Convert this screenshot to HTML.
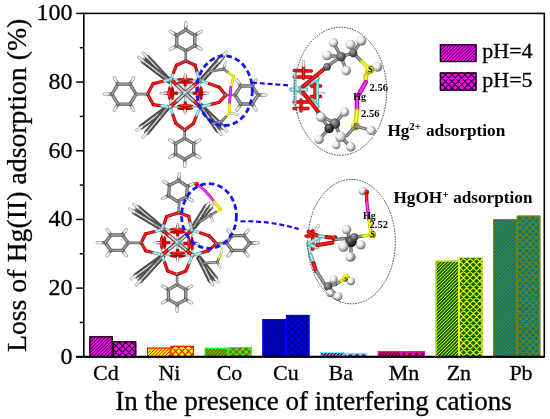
<!DOCTYPE html>
<html><head><meta charset="utf-8"><style>
html,body{margin:0;padding:0;background:#fff;overflow:hidden;width:550px;height:419px;}
svg{display:block;}
text{font-family:"Liberation Serif","Times New Roman",serif;fill:#000;}
.yt,.xt,.tt,.tx,.lg{stroke:#000;stroke-width:0.3px;}
.yt{font-size:24px;}
.xt{font-size:22px;}
.tt{font-size:28px;}
.tx{font-size:27px;}
.lg{font-size:22px;}
.an{font-size:17.2px;font-weight:bold;}
</style></head><body>
<svg width="550" height="419" viewBox="0 0 550 419">
<defs>

</defs>
<defs><radialGradient id="grw" cx="0.4" cy="0.38" r="0.62" fx="0.36" fy="0.32"><stop offset="0" stop-color="#ffffff"/><stop offset="0.45" stop-color="#ececec"/><stop offset="1" stop-color="#6a6a6a"/></radialGradient><radialGradient id="grg" cx="0.4" cy="0.38" r="0.62" fx="0.36" fy="0.32"><stop offset="0" stop-color="#b0b0b0"/><stop offset="0.45" stop-color="#707070"/><stop offset="1" stop-color="#303030"/></radialGradient><radialGradient id="gry" cx="0.4" cy="0.38" r="0.62" fx="0.36" fy="0.32"><stop offset="0" stop-color="#ffff80"/><stop offset="0.45" stop-color="#f0f000"/><stop offset="1" stop-color="#909000"/></radialGradient><radialGradient id="grr" cx="0.4" cy="0.38" r="0.62" fx="0.36" fy="0.32"><stop offset="0" stop-color="#ff7070"/><stop offset="0.45" stop-color="#e00000"/><stop offset="1" stop-color="#900000"/></radialGradient><radialGradient id="grm" cx="0.4" cy="0.38" r="0.62" fx="0.36" fy="0.32"><stop offset="0" stop-color="#ff80ff"/><stop offset="0.45" stop-color="#e000e0"/><stop offset="1" stop-color="#900090"/></radialGradient><radialGradient id="grc" cx="0.4" cy="0.38" r="0.62" fx="0.36" fy="0.32"><stop offset="0" stop-color="#e0ffff"/><stop offset="0.45" stop-color="#90d0d0"/><stop offset="1" stop-color="#508888"/></radialGradient><radialGradient id="grk" cx="0.4" cy="0.38" r="0.62" fx="0.36" fy="0.32"><stop offset="0" stop-color="#909090"/><stop offset="0.45" stop-color="#404040"/><stop offset="1" stop-color="#101010"/></radialGradient></defs><path d="M169.2,80.8 L147.4,57.5" stroke="#474747" stroke-width="5.4" stroke-linecap="round"/><line x1="169.2" y1="80.8" x2="147.4" y2="57.5" stroke="#5e5e5e" stroke-width="3.0" stroke-linecap="round"/><line x1="169.2" y1="80.8" x2="147.4" y2="57.5" stroke="#a4a4a4" stroke-width="1.35" stroke-linecap="round"/><line x1="161.4" y1="72.5" x2="147.4" y2="57.5" stroke="#f0f0f0" stroke-width="0.9"/><line x1="147.4" y1="57.5" x2="143.2" y2="53.1" stroke="#a8a8a8" stroke-width="3.0" stroke-linecap="round"/><line x1="147.4" y1="57.5" x2="143.2" y2="53.1" stroke="#ffffff" stroke-width="1.35" stroke-linecap="round"/><path d="M169.2,80.8 L143.3,61.0" stroke="#474747" stroke-width="5.4" stroke-linecap="round"/><line x1="169.2" y1="80.8" x2="143.3" y2="61.0" stroke="#5e5e5e" stroke-width="3.0" stroke-linecap="round"/><line x1="169.2" y1="80.8" x2="143.3" y2="61.0" stroke="#a4a4a4" stroke-width="1.35" stroke-linecap="round"/><line x1="159.9" y1="73.7" x2="143.3" y2="61.0" stroke="#f0f0f0" stroke-width="0.9"/><line x1="143.3" y1="61.0" x2="138.4" y2="57.2" stroke="#a8a8a8" stroke-width="3.0" stroke-linecap="round"/><line x1="143.3" y1="61.0" x2="138.4" y2="57.2" stroke="#ffffff" stroke-width="1.35" stroke-linecap="round"/><path d="M167.5,107.5 L141.7,126.7" stroke="#474747" stroke-width="5.4" stroke-linecap="round"/><line x1="167.5" y1="107.5" x2="141.7" y2="126.7" stroke="#5e5e5e" stroke-width="3.0" stroke-linecap="round"/><line x1="167.5" y1="107.5" x2="141.7" y2="126.7" stroke="#a4a4a4" stroke-width="1.35" stroke-linecap="round"/><line x1="158.3" y1="114.3" x2="141.7" y2="126.7" stroke="#f0f0f0" stroke-width="0.9"/><line x1="141.7" y1="126.7" x2="136.8" y2="130.3" stroke="#a8a8a8" stroke-width="3.0" stroke-linecap="round"/><line x1="141.7" y1="126.7" x2="136.8" y2="130.3" stroke="#ffffff" stroke-width="1.35" stroke-linecap="round"/><path d="M167.5,107.5 L146.9,132.5" stroke="#474747" stroke-width="5.4" stroke-linecap="round"/><line x1="167.5" y1="107.5" x2="146.9" y2="132.5" stroke="#5e5e5e" stroke-width="3.0" stroke-linecap="round"/><line x1="167.5" y1="107.5" x2="146.9" y2="132.5" stroke="#a4a4a4" stroke-width="1.35" stroke-linecap="round"/><line x1="160.1" y1="116.4" x2="146.9" y2="132.5" stroke="#f0f0f0" stroke-width="0.9"/><line x1="146.9" y1="132.5" x2="142.9" y2="137.3" stroke="#a8a8a8" stroke-width="3.0" stroke-linecap="round"/><line x1="146.9" y1="132.5" x2="142.9" y2="137.3" stroke="#ffffff" stroke-width="1.35" stroke-linecap="round"/><path d="M201.5,80.5 L222.3,56.6" stroke="#474747" stroke-width="5.4" stroke-linecap="round"/><line x1="201.5" y1="80.5" x2="222.3" y2="56.6" stroke="#5e5e5e" stroke-width="3.0" stroke-linecap="round"/><line x1="201.5" y1="80.5" x2="222.3" y2="56.6" stroke="#a4a4a4" stroke-width="1.35" stroke-linecap="round"/><line x1="208.9" y1="72.0" x2="222.3" y2="56.6" stroke="#f0f0f0" stroke-width="0.9"/><line x1="222.3" y1="56.6" x2="226.3" y2="52.0" stroke="#a8a8a8" stroke-width="3.0" stroke-linecap="round"/><line x1="222.3" y1="56.6" x2="226.3" y2="52.0" stroke="#ffffff" stroke-width="1.35" stroke-linecap="round"/><path d="M201.5,80.5 L218.8,61.3" stroke="#474747" stroke-width="5.4" stroke-linecap="round"/><line x1="201.5" y1="80.5" x2="218.8" y2="61.3" stroke="#5e5e5e" stroke-width="3.0" stroke-linecap="round"/><line x1="201.5" y1="80.5" x2="218.8" y2="61.3" stroke="#a4a4a4" stroke-width="1.35" stroke-linecap="round"/><line x1="207.7" y1="73.6" x2="218.8" y2="61.3" stroke="#f0f0f0" stroke-width="0.9"/><line x1="218.8" y1="61.3" x2="222.1" y2="57.6" stroke="#a8a8a8" stroke-width="3.0" stroke-linecap="round"/><line x1="218.8" y1="61.3" x2="222.1" y2="57.6" stroke="#ffffff" stroke-width="1.35" stroke-linecap="round"/><path d="M200.5,105.5 L222.7,127.1" stroke="#474747" stroke-width="5.4" stroke-linecap="round"/><line x1="200.5" y1="105.5" x2="222.7" y2="127.1" stroke="#5e5e5e" stroke-width="3.0" stroke-linecap="round"/><line x1="200.5" y1="105.5" x2="222.7" y2="127.1" stroke="#a4a4a4" stroke-width="1.35" stroke-linecap="round"/><line x1="208.4" y1="113.2" x2="222.7" y2="127.1" stroke="#f0f0f0" stroke-width="0.9"/><line x1="222.7" y1="127.1" x2="226.9" y2="131.3" stroke="#a8a8a8" stroke-width="3.0" stroke-linecap="round"/><line x1="222.7" y1="127.1" x2="226.9" y2="131.3" stroke="#ffffff" stroke-width="1.35" stroke-linecap="round"/><path d="M200.5,105.5 L217.8,130.1" stroke="#474747" stroke-width="5.4" stroke-linecap="round"/><line x1="200.5" y1="105.5" x2="217.8" y2="130.1" stroke="#5e5e5e" stroke-width="3.0" stroke-linecap="round"/><line x1="200.5" y1="105.5" x2="217.8" y2="130.1" stroke="#a4a4a4" stroke-width="1.35" stroke-linecap="round"/><line x1="206.7" y1="114.3" x2="217.8" y2="130.1" stroke="#f0f0f0" stroke-width="0.9"/><line x1="217.8" y1="130.1" x2="221.1" y2="134.7" stroke="#a8a8a8" stroke-width="3.0" stroke-linecap="round"/><line x1="217.8" y1="130.1" x2="221.1" y2="134.7" stroke="#ffffff" stroke-width="1.35" stroke-linecap="round"/><line x1="185.8" y1="30.0" x2="185.8" y2="26.2" stroke="#5e5e5e" stroke-width="3.3" stroke-linecap="round"/><line x1="185.8" y1="30.0" x2="185.8" y2="26.2" stroke="#a4a4a4" stroke-width="1.48" stroke-linecap="round"/><line x1="185.8" y1="26.2" x2="185.8" y2="22.4" stroke="#a8a8a8" stroke-width="3.3" stroke-linecap="round"/><line x1="185.8" y1="26.2" x2="185.8" y2="22.4" stroke="#ffffff" stroke-width="1.48" stroke-linecap="round"/><line x1="194.8" y1="35.2" x2="198.1" y2="33.3" stroke="#5e5e5e" stroke-width="3.3" stroke-linecap="round"/><line x1="194.8" y1="35.2" x2="198.1" y2="33.3" stroke="#a4a4a4" stroke-width="1.48" stroke-linecap="round"/><line x1="198.1" y1="33.3" x2="201.4" y2="31.4" stroke="#a8a8a8" stroke-width="3.3" stroke-linecap="round"/><line x1="198.1" y1="33.3" x2="201.4" y2="31.4" stroke="#ffffff" stroke-width="1.48" stroke-linecap="round"/><line x1="194.8" y1="45.6" x2="198.1" y2="47.5" stroke="#5e5e5e" stroke-width="3.3" stroke-linecap="round"/><line x1="194.8" y1="45.6" x2="198.1" y2="47.5" stroke="#a4a4a4" stroke-width="1.48" stroke-linecap="round"/><line x1="198.1" y1="47.5" x2="201.4" y2="49.4" stroke="#a8a8a8" stroke-width="3.3" stroke-linecap="round"/><line x1="198.1" y1="47.5" x2="201.4" y2="49.4" stroke="#ffffff" stroke-width="1.48" stroke-linecap="round"/><line x1="176.8" y1="45.6" x2="173.5" y2="47.5" stroke="#5e5e5e" stroke-width="3.3" stroke-linecap="round"/><line x1="176.8" y1="45.6" x2="173.5" y2="47.5" stroke="#a4a4a4" stroke-width="1.48" stroke-linecap="round"/><line x1="173.5" y1="47.5" x2="170.2" y2="49.4" stroke="#a8a8a8" stroke-width="3.3" stroke-linecap="round"/><line x1="173.5" y1="47.5" x2="170.2" y2="49.4" stroke="#ffffff" stroke-width="1.48" stroke-linecap="round"/><line x1="176.8" y1="35.2" x2="173.5" y2="33.3" stroke="#5e5e5e" stroke-width="3.3" stroke-linecap="round"/><line x1="176.8" y1="35.2" x2="173.5" y2="33.3" stroke="#a4a4a4" stroke-width="1.48" stroke-linecap="round"/><line x1="173.5" y1="33.3" x2="170.2" y2="31.4" stroke="#a8a8a8" stroke-width="3.3" stroke-linecap="round"/><line x1="173.5" y1="33.3" x2="170.2" y2="31.4" stroke="#ffffff" stroke-width="1.48" stroke-linecap="round"/><line x1="185.8" y1="30.0" x2="194.8" y2="35.2" stroke="#5e5e5e" stroke-width="3.3" stroke-linecap="round"/><line x1="185.8" y1="30.0" x2="194.8" y2="35.2" stroke="#a4a4a4" stroke-width="1.48" stroke-linecap="round"/><line x1="194.8" y1="35.2" x2="194.8" y2="45.6" stroke="#5e5e5e" stroke-width="3.3" stroke-linecap="round"/><line x1="194.8" y1="35.2" x2="194.8" y2="45.6" stroke="#a4a4a4" stroke-width="1.48" stroke-linecap="round"/><line x1="194.8" y1="45.6" x2="185.8" y2="50.8" stroke="#5e5e5e" stroke-width="3.3" stroke-linecap="round"/><line x1="194.8" y1="45.6" x2="185.8" y2="50.8" stroke="#a4a4a4" stroke-width="1.48" stroke-linecap="round"/><line x1="185.8" y1="50.8" x2="176.8" y2="45.6" stroke="#5e5e5e" stroke-width="3.3" stroke-linecap="round"/><line x1="185.8" y1="50.8" x2="176.8" y2="45.6" stroke="#a4a4a4" stroke-width="1.48" stroke-linecap="round"/><line x1="176.8" y1="45.6" x2="176.8" y2="35.2" stroke="#5e5e5e" stroke-width="3.3" stroke-linecap="round"/><line x1="176.8" y1="45.6" x2="176.8" y2="35.2" stroke="#a4a4a4" stroke-width="1.48" stroke-linecap="round"/><line x1="176.8" y1="35.2" x2="185.8" y2="30.0" stroke="#5e5e5e" stroke-width="3.3" stroke-linecap="round"/><line x1="176.8" y1="35.2" x2="185.8" y2="30.0" stroke="#a4a4a4" stroke-width="1.48" stroke-linecap="round"/><line x1="185.8" y1="50.8" x2="185.8" y2="61.0" stroke="#5e5e5e" stroke-width="2.6" stroke-linecap="round"/><line x1="185.8" y1="50.8" x2="185.8" y2="61.0" stroke="#a4a4a4" stroke-width="1.17" stroke-linecap="round"/><line x1="130.0" y1="84.1" x2="131.9" y2="81.0" stroke="#5e5e5e" stroke-width="3.3" stroke-linecap="round"/><line x1="130.0" y1="84.1" x2="131.9" y2="81.0" stroke="#a4a4a4" stroke-width="1.48" stroke-linecap="round"/><line x1="131.9" y1="81.0" x2="133.8" y2="77.8" stroke="#a8a8a8" stroke-width="3.3" stroke-linecap="round"/><line x1="131.9" y1="81.0" x2="133.8" y2="77.8" stroke="#ffffff" stroke-width="1.48" stroke-linecap="round"/><line x1="130.0" y1="104.1" x2="131.9" y2="107.2" stroke="#5e5e5e" stroke-width="3.3" stroke-linecap="round"/><line x1="130.0" y1="104.1" x2="131.9" y2="107.2" stroke="#a4a4a4" stroke-width="1.48" stroke-linecap="round"/><line x1="131.9" y1="107.2" x2="133.8" y2="110.4" stroke="#a8a8a8" stroke-width="3.3" stroke-linecap="round"/><line x1="131.9" y1="107.2" x2="133.8" y2="110.4" stroke="#ffffff" stroke-width="1.48" stroke-linecap="round"/><line x1="118.0" y1="104.1" x2="116.1" y2="107.2" stroke="#5e5e5e" stroke-width="3.3" stroke-linecap="round"/><line x1="118.0" y1="104.1" x2="116.1" y2="107.2" stroke="#a4a4a4" stroke-width="1.48" stroke-linecap="round"/><line x1="116.1" y1="107.2" x2="114.2" y2="110.4" stroke="#a8a8a8" stroke-width="3.3" stroke-linecap="round"/><line x1="116.1" y1="107.2" x2="114.2" y2="110.4" stroke="#ffffff" stroke-width="1.48" stroke-linecap="round"/><line x1="112.0" y1="94.1" x2="108.2" y2="94.1" stroke="#5e5e5e" stroke-width="3.3" stroke-linecap="round"/><line x1="112.0" y1="94.1" x2="108.2" y2="94.1" stroke="#a4a4a4" stroke-width="1.48" stroke-linecap="round"/><line x1="108.2" y1="94.1" x2="104.4" y2="94.1" stroke="#a8a8a8" stroke-width="3.3" stroke-linecap="round"/><line x1="108.2" y1="94.1" x2="104.4" y2="94.1" stroke="#ffffff" stroke-width="1.48" stroke-linecap="round"/><line x1="118.0" y1="84.1" x2="116.1" y2="81.0" stroke="#5e5e5e" stroke-width="3.3" stroke-linecap="round"/><line x1="118.0" y1="84.1" x2="116.1" y2="81.0" stroke="#a4a4a4" stroke-width="1.48" stroke-linecap="round"/><line x1="116.1" y1="81.0" x2="114.2" y2="77.8" stroke="#a8a8a8" stroke-width="3.3" stroke-linecap="round"/><line x1="116.1" y1="81.0" x2="114.2" y2="77.8" stroke="#ffffff" stroke-width="1.48" stroke-linecap="round"/><line x1="130.0" y1="84.1" x2="136.0" y2="94.1" stroke="#5e5e5e" stroke-width="3.3" stroke-linecap="round"/><line x1="130.0" y1="84.1" x2="136.0" y2="94.1" stroke="#a4a4a4" stroke-width="1.48" stroke-linecap="round"/><line x1="136.0" y1="94.1" x2="130.0" y2="104.1" stroke="#5e5e5e" stroke-width="3.3" stroke-linecap="round"/><line x1="136.0" y1="94.1" x2="130.0" y2="104.1" stroke="#a4a4a4" stroke-width="1.48" stroke-linecap="round"/><line x1="130.0" y1="104.1" x2="118.0" y2="104.1" stroke="#5e5e5e" stroke-width="3.3" stroke-linecap="round"/><line x1="130.0" y1="104.1" x2="118.0" y2="104.1" stroke="#a4a4a4" stroke-width="1.48" stroke-linecap="round"/><line x1="118.0" y1="104.1" x2="112.0" y2="94.1" stroke="#5e5e5e" stroke-width="3.3" stroke-linecap="round"/><line x1="118.0" y1="104.1" x2="112.0" y2="94.1" stroke="#a4a4a4" stroke-width="1.48" stroke-linecap="round"/><line x1="112.0" y1="94.1" x2="118.0" y2="84.1" stroke="#5e5e5e" stroke-width="3.3" stroke-linecap="round"/><line x1="112.0" y1="94.1" x2="118.0" y2="84.1" stroke="#a4a4a4" stroke-width="1.48" stroke-linecap="round"/><line x1="118.0" y1="84.1" x2="130.0" y2="84.1" stroke="#5e5e5e" stroke-width="3.3" stroke-linecap="round"/><line x1="118.0" y1="84.1" x2="130.0" y2="84.1" stroke="#a4a4a4" stroke-width="1.48" stroke-linecap="round"/><line x1="136.0" y1="94.1" x2="147.5" y2="94.1" stroke="#5e5e5e" stroke-width="2.6" stroke-linecap="round"/><line x1="136.0" y1="94.1" x2="147.5" y2="94.1" stroke="#a4a4a4" stroke-width="1.17" stroke-linecap="round"/><line x1="193.7" y1="143.6" x2="196.8" y2="141.8" stroke="#5e5e5e" stroke-width="3.3" stroke-linecap="round"/><line x1="193.7" y1="143.6" x2="196.8" y2="141.8" stroke="#a4a4a4" stroke-width="1.48" stroke-linecap="round"/><line x1="196.8" y1="141.8" x2="199.9" y2="140.0" stroke="#a8a8a8" stroke-width="3.3" stroke-linecap="round"/><line x1="196.8" y1="141.8" x2="199.9" y2="140.0" stroke="#ffffff" stroke-width="1.48" stroke-linecap="round"/><line x1="193.7" y1="154.0" x2="196.8" y2="155.8" stroke="#5e5e5e" stroke-width="3.3" stroke-linecap="round"/><line x1="193.7" y1="154.0" x2="196.8" y2="155.8" stroke="#a4a4a4" stroke-width="1.48" stroke-linecap="round"/><line x1="196.8" y1="155.8" x2="199.9" y2="157.6" stroke="#a8a8a8" stroke-width="3.3" stroke-linecap="round"/><line x1="196.8" y1="155.8" x2="199.9" y2="157.6" stroke="#ffffff" stroke-width="1.48" stroke-linecap="round"/><line x1="184.7" y1="159.2" x2="184.7" y2="162.8" stroke="#5e5e5e" stroke-width="3.3" stroke-linecap="round"/><line x1="184.7" y1="159.2" x2="184.7" y2="162.8" stroke="#a4a4a4" stroke-width="1.48" stroke-linecap="round"/><line x1="184.7" y1="162.8" x2="184.7" y2="166.4" stroke="#a8a8a8" stroke-width="3.3" stroke-linecap="round"/><line x1="184.7" y1="162.8" x2="184.7" y2="166.4" stroke="#ffffff" stroke-width="1.48" stroke-linecap="round"/><line x1="175.7" y1="154.0" x2="172.6" y2="155.8" stroke="#5e5e5e" stroke-width="3.3" stroke-linecap="round"/><line x1="175.7" y1="154.0" x2="172.6" y2="155.8" stroke="#a4a4a4" stroke-width="1.48" stroke-linecap="round"/><line x1="172.6" y1="155.8" x2="169.5" y2="157.6" stroke="#a8a8a8" stroke-width="3.3" stroke-linecap="round"/><line x1="172.6" y1="155.8" x2="169.5" y2="157.6" stroke="#ffffff" stroke-width="1.48" stroke-linecap="round"/><line x1="175.7" y1="143.6" x2="172.6" y2="141.8" stroke="#5e5e5e" stroke-width="3.3" stroke-linecap="round"/><line x1="175.7" y1="143.6" x2="172.6" y2="141.8" stroke="#a4a4a4" stroke-width="1.48" stroke-linecap="round"/><line x1="172.6" y1="141.8" x2="169.5" y2="140.0" stroke="#a8a8a8" stroke-width="3.3" stroke-linecap="round"/><line x1="172.6" y1="141.8" x2="169.5" y2="140.0" stroke="#ffffff" stroke-width="1.48" stroke-linecap="round"/><line x1="184.7" y1="138.4" x2="193.7" y2="143.6" stroke="#5e5e5e" stroke-width="3.3" stroke-linecap="round"/><line x1="184.7" y1="138.4" x2="193.7" y2="143.6" stroke="#a4a4a4" stroke-width="1.48" stroke-linecap="round"/><line x1="193.7" y1="143.6" x2="193.7" y2="154.0" stroke="#5e5e5e" stroke-width="3.3" stroke-linecap="round"/><line x1="193.7" y1="143.6" x2="193.7" y2="154.0" stroke="#a4a4a4" stroke-width="1.48" stroke-linecap="round"/><line x1="193.7" y1="154.0" x2="184.7" y2="159.2" stroke="#5e5e5e" stroke-width="3.3" stroke-linecap="round"/><line x1="193.7" y1="154.0" x2="184.7" y2="159.2" stroke="#a4a4a4" stroke-width="1.48" stroke-linecap="round"/><line x1="184.7" y1="159.2" x2="175.7" y2="154.0" stroke="#5e5e5e" stroke-width="3.3" stroke-linecap="round"/><line x1="184.7" y1="159.2" x2="175.7" y2="154.0" stroke="#a4a4a4" stroke-width="1.48" stroke-linecap="round"/><line x1="175.7" y1="154.0" x2="175.7" y2="143.6" stroke="#5e5e5e" stroke-width="3.3" stroke-linecap="round"/><line x1="175.7" y1="154.0" x2="175.7" y2="143.6" stroke="#a4a4a4" stroke-width="1.48" stroke-linecap="round"/><line x1="175.7" y1="143.6" x2="184.7" y2="138.4" stroke="#5e5e5e" stroke-width="3.3" stroke-linecap="round"/><line x1="175.7" y1="143.6" x2="184.7" y2="138.4" stroke="#a4a4a4" stroke-width="1.48" stroke-linecap="round"/><line x1="184.7" y1="138.4" x2="184.7" y2="130.0" stroke="#5e5e5e" stroke-width="2.6" stroke-linecap="round"/><line x1="184.7" y1="138.4" x2="184.7" y2="130.0" stroke="#a4a4a4" stroke-width="1.17" stroke-linecap="round"/><line x1="252.2" y1="86.0" x2="254.2" y2="82.9" stroke="#5e5e5e" stroke-width="3.3" stroke-linecap="round"/><line x1="252.2" y1="86.0" x2="254.2" y2="82.9" stroke="#a4a4a4" stroke-width="1.48" stroke-linecap="round"/><line x1="254.2" y1="82.9" x2="256.2" y2="79.8" stroke="#a8a8a8" stroke-width="3.3" stroke-linecap="round"/><line x1="254.2" y1="82.9" x2="256.2" y2="79.8" stroke="#ffffff" stroke-width="1.48" stroke-linecap="round"/><line x1="258.0" y1="95.0" x2="262.0" y2="95.0" stroke="#5e5e5e" stroke-width="3.3" stroke-linecap="round"/><line x1="258.0" y1="95.0" x2="262.0" y2="95.0" stroke="#a4a4a4" stroke-width="1.48" stroke-linecap="round"/><line x1="262.0" y1="95.0" x2="266.0" y2="95.0" stroke="#a8a8a8" stroke-width="3.3" stroke-linecap="round"/><line x1="262.0" y1="95.0" x2="266.0" y2="95.0" stroke="#ffffff" stroke-width="1.48" stroke-linecap="round"/><line x1="252.2" y1="104.0" x2="254.2" y2="107.1" stroke="#5e5e5e" stroke-width="3.3" stroke-linecap="round"/><line x1="252.2" y1="104.0" x2="254.2" y2="107.1" stroke="#a4a4a4" stroke-width="1.48" stroke-linecap="round"/><line x1="254.2" y1="107.1" x2="256.2" y2="110.2" stroke="#a8a8a8" stroke-width="3.3" stroke-linecap="round"/><line x1="254.2" y1="107.1" x2="256.2" y2="110.2" stroke="#ffffff" stroke-width="1.48" stroke-linecap="round"/><line x1="240.8" y1="104.0" x2="238.8" y2="107.1" stroke="#5e5e5e" stroke-width="3.3" stroke-linecap="round"/><line x1="240.8" y1="104.0" x2="238.8" y2="107.1" stroke="#a4a4a4" stroke-width="1.48" stroke-linecap="round"/><line x1="238.8" y1="107.1" x2="236.8" y2="110.2" stroke="#a8a8a8" stroke-width="3.3" stroke-linecap="round"/><line x1="238.8" y1="107.1" x2="236.8" y2="110.2" stroke="#ffffff" stroke-width="1.48" stroke-linecap="round"/><line x1="240.8" y1="86.0" x2="238.8" y2="82.9" stroke="#5e5e5e" stroke-width="3.3" stroke-linecap="round"/><line x1="240.8" y1="86.0" x2="238.8" y2="82.9" stroke="#a4a4a4" stroke-width="1.48" stroke-linecap="round"/><line x1="238.8" y1="82.9" x2="236.8" y2="79.8" stroke="#a8a8a8" stroke-width="3.3" stroke-linecap="round"/><line x1="238.8" y1="82.9" x2="236.8" y2="79.8" stroke="#ffffff" stroke-width="1.48" stroke-linecap="round"/><line x1="252.2" y1="86.0" x2="258.0" y2="95.0" stroke="#5e5e5e" stroke-width="3.3" stroke-linecap="round"/><line x1="252.2" y1="86.0" x2="258.0" y2="95.0" stroke="#a4a4a4" stroke-width="1.48" stroke-linecap="round"/><line x1="258.0" y1="95.0" x2="252.2" y2="104.0" stroke="#5e5e5e" stroke-width="3.3" stroke-linecap="round"/><line x1="258.0" y1="95.0" x2="252.2" y2="104.0" stroke="#a4a4a4" stroke-width="1.48" stroke-linecap="round"/><line x1="252.2" y1="104.0" x2="240.8" y2="104.0" stroke="#5e5e5e" stroke-width="3.3" stroke-linecap="round"/><line x1="252.2" y1="104.0" x2="240.8" y2="104.0" stroke="#a4a4a4" stroke-width="1.48" stroke-linecap="round"/><line x1="240.8" y1="104.0" x2="235.0" y2="95.0" stroke="#5e5e5e" stroke-width="3.3" stroke-linecap="round"/><line x1="240.8" y1="104.0" x2="235.0" y2="95.0" stroke="#a4a4a4" stroke-width="1.48" stroke-linecap="round"/><line x1="235.0" y1="95.0" x2="240.8" y2="86.0" stroke="#5e5e5e" stroke-width="3.3" stroke-linecap="round"/><line x1="235.0" y1="95.0" x2="240.8" y2="86.0" stroke="#a4a4a4" stroke-width="1.48" stroke-linecap="round"/><line x1="240.8" y1="86.0" x2="252.2" y2="86.0" stroke="#5e5e5e" stroke-width="3.3" stroke-linecap="round"/><line x1="240.8" y1="86.0" x2="252.2" y2="86.0" stroke="#a4a4a4" stroke-width="1.48" stroke-linecap="round"/><line x1="235.0" y1="95.0" x2="225.7" y2="95.0" stroke="#5e5e5e" stroke-width="2.6" stroke-linecap="round"/><line x1="235.0" y1="95.0" x2="225.7" y2="95.0" stroke="#a4a4a4" stroke-width="1.17" stroke-linecap="round"/><line x1="170.8" y1="79.4" x2="173.6" y2="72.3" stroke="#5fb0b4" stroke-width="3.2" stroke-linecap="round"/><line x1="170.8" y1="79.4" x2="173.6" y2="72.3" stroke="#b8f0f0" stroke-width="1.44" stroke-linecap="round"/><line x1="173.6" y1="72.3" x2="176.5" y2="65.2" stroke="#b80000" stroke-width="3.2" stroke-linecap="round"/><line x1="173.6" y1="72.3" x2="176.5" y2="65.2" stroke="#ff2424" stroke-width="1.44" stroke-linecap="round"/><line x1="176.5" y1="65.2" x2="185.8" y2="61.0" stroke="#b80000" stroke-width="3.2" stroke-linecap="round"/><line x1="176.5" y1="65.2" x2="185.8" y2="61.0" stroke="#ff2424" stroke-width="1.44" stroke-linecap="round"/><line x1="185.8" y1="61.0" x2="195.1" y2="65.2" stroke="#b80000" stroke-width="3.2" stroke-linecap="round"/><line x1="185.8" y1="61.0" x2="195.1" y2="65.2" stroke="#ff2424" stroke-width="1.44" stroke-linecap="round"/><line x1="195.1" y1="65.2" x2="197.3" y2="72.7" stroke="#b80000" stroke-width="3.2" stroke-linecap="round"/><line x1="195.1" y1="65.2" x2="197.3" y2="72.7" stroke="#ff2424" stroke-width="1.44" stroke-linecap="round"/><line x1="197.3" y1="72.7" x2="199.6" y2="80.1" stroke="#5fb0b4" stroke-width="3.2" stroke-linecap="round"/><line x1="197.3" y1="72.7" x2="199.6" y2="80.1" stroke="#b8f0f0" stroke-width="1.44" stroke-linecap="round"/><circle cx="185.8" cy="61.0" r="1.7" fill="url(#grg)"/><line x1="170.8" y1="79.4" x2="162.0" y2="81.5" stroke="#5fb0b4" stroke-width="3.2" stroke-linecap="round"/><line x1="170.8" y1="79.4" x2="162.0" y2="81.5" stroke="#b8f0f0" stroke-width="1.44" stroke-linecap="round"/><line x1="162.0" y1="81.5" x2="153.2" y2="83.6" stroke="#b80000" stroke-width="3.2" stroke-linecap="round"/><line x1="162.0" y1="81.5" x2="153.2" y2="83.6" stroke="#ff2424" stroke-width="1.44" stroke-linecap="round"/><line x1="153.2" y1="83.6" x2="147.5" y2="94.1" stroke="#b80000" stroke-width="3.2" stroke-linecap="round"/><line x1="153.2" y1="83.6" x2="147.5" y2="94.1" stroke="#ff2424" stroke-width="1.44" stroke-linecap="round"/><line x1="147.5" y1="94.1" x2="153.2" y2="104.6" stroke="#b80000" stroke-width="3.2" stroke-linecap="round"/><line x1="147.5" y1="94.1" x2="153.2" y2="104.6" stroke="#ff2424" stroke-width="1.44" stroke-linecap="round"/><line x1="153.2" y1="104.6" x2="161.6" y2="105.8" stroke="#b80000" stroke-width="3.2" stroke-linecap="round"/><line x1="153.2" y1="104.6" x2="161.6" y2="105.8" stroke="#ff2424" stroke-width="1.44" stroke-linecap="round"/><line x1="161.6" y1="105.8" x2="170.1" y2="107.0" stroke="#5fb0b4" stroke-width="3.2" stroke-linecap="round"/><line x1="161.6" y1="105.8" x2="170.1" y2="107.0" stroke="#b8f0f0" stroke-width="1.44" stroke-linecap="round"/><circle cx="147.5" cy="94.1" r="1.7" fill="url(#grg)"/><line x1="199.6" y1="80.1" x2="209.4" y2="83.7" stroke="#5fb0b4" stroke-width="3.2" stroke-linecap="round"/><line x1="199.6" y1="80.1" x2="209.4" y2="83.7" stroke="#b8f0f0" stroke-width="1.44" stroke-linecap="round"/><line x1="209.4" y1="83.7" x2="219.3" y2="87.2" stroke="#b80000" stroke-width="3.2" stroke-linecap="round"/><line x1="209.4" y1="83.7" x2="219.3" y2="87.2" stroke="#ff2424" stroke-width="1.44" stroke-linecap="round"/><line x1="219.3" y1="87.2" x2="225.7" y2="95.1" stroke="#b80000" stroke-width="3.2" stroke-linecap="round"/><line x1="219.3" y1="87.2" x2="225.7" y2="95.1" stroke="#ff2424" stroke-width="1.44" stroke-linecap="round"/><line x1="225.7" y1="95.1" x2="219.3" y2="102.2" stroke="#b80000" stroke-width="3.2" stroke-linecap="round"/><line x1="225.7" y1="95.1" x2="219.3" y2="102.2" stroke="#ff2424" stroke-width="1.44" stroke-linecap="round"/><line x1="219.3" y1="102.2" x2="209.8" y2="104.6" stroke="#b80000" stroke-width="3.2" stroke-linecap="round"/><line x1="219.3" y1="102.2" x2="209.8" y2="104.6" stroke="#ff2424" stroke-width="1.44" stroke-linecap="round"/><line x1="209.8" y1="104.6" x2="200.3" y2="107.0" stroke="#5fb0b4" stroke-width="3.2" stroke-linecap="round"/><line x1="209.8" y1="104.6" x2="200.3" y2="107.0" stroke="#b8f0f0" stroke-width="1.44" stroke-linecap="round"/><circle cx="225.7" cy="95.1" r="1.7" fill="url(#grg)"/><line x1="170.1" y1="107.0" x2="173.0" y2="115.2" stroke="#5fb0b4" stroke-width="3.2" stroke-linecap="round"/><line x1="170.1" y1="107.0" x2="173.0" y2="115.2" stroke="#b8f0f0" stroke-width="1.44" stroke-linecap="round"/><line x1="173.0" y1="115.2" x2="175.9" y2="123.4" stroke="#b80000" stroke-width="3.2" stroke-linecap="round"/><line x1="173.0" y1="115.2" x2="175.9" y2="123.4" stroke="#ff2424" stroke-width="1.44" stroke-linecap="round"/><line x1="175.9" y1="123.4" x2="184.7" y2="130.0" stroke="#b80000" stroke-width="3.2" stroke-linecap="round"/><line x1="175.9" y1="123.4" x2="184.7" y2="130.0" stroke="#ff2424" stroke-width="1.44" stroke-linecap="round"/><line x1="184.7" y1="130.0" x2="193.4" y2="123.4" stroke="#b80000" stroke-width="3.2" stroke-linecap="round"/><line x1="184.7" y1="130.0" x2="193.4" y2="123.4" stroke="#ff2424" stroke-width="1.44" stroke-linecap="round"/><line x1="193.4" y1="123.4" x2="196.8" y2="115.2" stroke="#b80000" stroke-width="3.2" stroke-linecap="round"/><line x1="193.4" y1="123.4" x2="196.8" y2="115.2" stroke="#ff2424" stroke-width="1.44" stroke-linecap="round"/><line x1="196.8" y1="115.2" x2="200.3" y2="107.0" stroke="#5fb0b4" stroke-width="3.2" stroke-linecap="round"/><line x1="196.8" y1="115.2" x2="200.3" y2="107.0" stroke="#b8f0f0" stroke-width="1.44" stroke-linecap="round"/><circle cx="184.7" cy="130.0" r="1.7" fill="url(#grg)"/><line x1="170.8" y1="79.4" x2="199.6" y2="80.1" stroke="#5fb0b4" stroke-width="2.2" stroke-linecap="round"/><line x1="170.8" y1="79.4" x2="199.6" y2="80.1" stroke="#b8f0f0" stroke-width="0.99" stroke-linecap="round"/><line x1="199.6" y1="80.1" x2="200.3" y2="107.0" stroke="#5fb0b4" stroke-width="2.2" stroke-linecap="round"/><line x1="199.6" y1="80.1" x2="200.3" y2="107.0" stroke="#b8f0f0" stroke-width="0.99" stroke-linecap="round"/><line x1="200.3" y1="107.0" x2="170.1" y2="107.0" stroke="#5fb0b4" stroke-width="2.2" stroke-linecap="round"/><line x1="200.3" y1="107.0" x2="170.1" y2="107.0" stroke="#b8f0f0" stroke-width="0.99" stroke-linecap="round"/><line x1="170.1" y1="107.0" x2="170.8" y2="79.4" stroke="#5fb0b4" stroke-width="2.2" stroke-linecap="round"/><line x1="170.1" y1="107.0" x2="170.8" y2="79.4" stroke="#b8f0f0" stroke-width="0.99" stroke-linecap="round"/><line x1="185.2" y1="74.8" x2="185.2" y2="113.0" stroke="#5fb0b4" stroke-width="2.2" stroke-linecap="round"/><line x1="185.2" y1="74.8" x2="185.2" y2="113.0" stroke="#b8f0f0" stroke-width="0.99" stroke-linecap="round"/><line x1="164.8" y1="93.2" x2="205.6" y2="93.2" stroke="#5fb0b4" stroke-width="2.2" stroke-linecap="round"/><line x1="164.8" y1="93.2" x2="205.6" y2="93.2" stroke="#b8f0f0" stroke-width="0.99" stroke-linecap="round"/><rect x="183.6" y="75.3" width="3.2" height="11" fill="#d00000"/><ellipse cx="185.2" cy="79.4" rx="8.2" ry="1.7" fill="#cc0000"/><ellipse cx="185.2" cy="82.4" rx="8.2" ry="1.7" fill="#c00000"/><ellipse cx="185.2" cy="79.0" rx="5" ry="0.8" fill="#ff3838"/><rect x="163.8" y="91.6" width="14" height="3.2" fill="#d00000"/><ellipse cx="169.4" cy="93.2" rx="1.8" ry="7" fill="#cc0000"/><ellipse cx="172.4" cy="93.2" rx="1.8" ry="7" fill="#c00000"/><ellipse cx="169.0" cy="93.2" rx="0.8" ry="4.5" fill="#ff3838"/><rect x="192.6" y="91.6" width="14" height="3.2" fill="#d00000"/><ellipse cx="198.2" cy="93.2" rx="1.8" ry="7" fill="#cc0000"/><ellipse cx="201.2" cy="93.2" rx="1.8" ry="7" fill="#c00000"/><ellipse cx="197.8" cy="93.2" rx="0.8" ry="4.5" fill="#ff3838"/><rect x="183.6" y="101.5" width="3.2" height="11" fill="#d00000"/><ellipse cx="185.2" cy="105.6" rx="8.2" ry="1.7" fill="#cc0000"/><ellipse cx="185.2" cy="108.6" rx="8.2" ry="1.7" fill="#c00000"/><ellipse cx="185.2" cy="105.2" rx="5" ry="0.8" fill="#ff3838"/><line x1="170.8" y1="79.4" x2="200.3" y2="107.0" stroke="#b80000" stroke-width="3.8" stroke-linecap="round"/><line x1="170.8" y1="79.4" x2="200.3" y2="107.0" stroke="#ff2424" stroke-width="1.71" stroke-linecap="round"/><line x1="199.6" y1="80.1" x2="170.1" y2="107.0" stroke="#b80000" stroke-width="3.8" stroke-linecap="round"/><line x1="199.6" y1="80.1" x2="170.1" y2="107.0" stroke="#ff2424" stroke-width="1.71" stroke-linecap="round"/><line x1="185.2" y1="93.2" x2="177.3" y2="85.6" stroke="#5fb0b4" stroke-width="2.4" stroke-linecap="round"/><line x1="185.2" y1="93.2" x2="177.3" y2="85.6" stroke="#b8f0f0" stroke-width="1.08" stroke-linecap="round"/><line x1="185.2" y1="93.2" x2="193.1" y2="86.0" stroke="#5fb0b4" stroke-width="2.4" stroke-linecap="round"/><line x1="185.2" y1="93.2" x2="193.1" y2="86.0" stroke="#b8f0f0" stroke-width="1.08" stroke-linecap="round"/><line x1="185.2" y1="93.2" x2="176.9" y2="100.8" stroke="#5fb0b4" stroke-width="2.4" stroke-linecap="round"/><line x1="185.2" y1="93.2" x2="176.9" y2="100.8" stroke="#b8f0f0" stroke-width="1.08" stroke-linecap="round"/><line x1="185.2" y1="93.2" x2="193.5" y2="100.8" stroke="#5fb0b4" stroke-width="2.4" stroke-linecap="round"/><line x1="185.2" y1="93.2" x2="193.5" y2="100.8" stroke="#b8f0f0" stroke-width="1.08" stroke-linecap="round"/><line x1="185.2" y1="77.7" x2="185.2" y2="74.2" stroke="#a8a8a8" stroke-width="2.4" stroke-linecap="round"/><line x1="185.2" y1="77.7" x2="185.2" y2="74.2" stroke="#ffffff" stroke-width="1.08" stroke-linecap="round"/><line x1="166.2" y1="93.2" x2="160.9" y2="93.2" stroke="#a8a8a8" stroke-width="2.4" stroke-linecap="round"/><line x1="166.2" y1="93.2" x2="160.9" y2="93.2" stroke="#ffffff" stroke-width="1.08" stroke-linecap="round"/><line x1="204.2" y1="93.2" x2="207.5" y2="93.2" stroke="#a8a8a8" stroke-width="2.4" stroke-linecap="round"/><line x1="204.2" y1="93.2" x2="207.5" y2="93.2" stroke="#ffffff" stroke-width="1.08" stroke-linecap="round"/><line x1="185.2" y1="110.2" x2="185.2" y2="113.6" stroke="#a8a8a8" stroke-width="2.4" stroke-linecap="round"/><line x1="185.2" y1="110.2" x2="185.2" y2="113.6" stroke="#ffffff" stroke-width="1.08" stroke-linecap="round"/><circle cx="170.8" cy="79.4" r="1.9" fill="url(#grc)"/><circle cx="199.6" cy="80.1" r="1.9" fill="url(#grc)"/><circle cx="170.1" cy="107.0" r="1.9" fill="url(#grc)"/><circle cx="200.3" cy="107.0" r="1.9" fill="url(#grc)"/><circle cx="185.2" cy="93.2" r="2.4" fill="url(#grc)"/><line x1="210.5" y1="71.5" x2="223.6" y2="69.1" stroke="#5e5e5e" stroke-width="2.6" stroke-linecap="round"/><line x1="210.5" y1="71.5" x2="223.6" y2="69.1" stroke="#a4a4a4" stroke-width="1.17" stroke-linecap="round"/><line x1="223.6" y1="69.1" x2="224.5" y2="65.8" stroke="#5e5e5e" stroke-width="2.6" stroke-linecap="round"/><line x1="223.6" y1="69.1" x2="224.5" y2="65.8" stroke="#a4a4a4" stroke-width="1.17" stroke-linecap="round"/><line x1="224.5" y1="65.8" x2="225.4" y2="62.5" stroke="#a8a8a8" stroke-width="2.6" stroke-linecap="round"/><line x1="224.5" y1="65.8" x2="225.4" y2="62.5" stroke="#ffffff" stroke-width="1.17" stroke-linecap="round"/><line x1="223.6" y1="69.1" x2="228.6" y2="72.8" stroke="#5e5e5e" stroke-width="2.6" stroke-linecap="round"/><line x1="223.6" y1="69.1" x2="228.6" y2="72.8" stroke="#a4a4a4" stroke-width="1.17" stroke-linecap="round"/><line x1="228.6" y1="72.8" x2="233.6" y2="76.4" stroke="#c8c800" stroke-width="2.6" stroke-linecap="round"/><line x1="228.6" y1="72.8" x2="233.6" y2="76.4" stroke="#ffff30" stroke-width="1.17" stroke-linecap="round"/><line x1="233.6" y1="76.4" x2="231.2" y2="87.0" stroke="#c8c800" stroke-width="2.8" stroke-linecap="round"/><line x1="233.6" y1="76.4" x2="231.2" y2="87.0" stroke="#ffff30" stroke-width="1.26" stroke-linecap="round"/><line x1="230.8" y1="87.2" x2="229.5" y2="103.7" stroke="#c000c0" stroke-width="2.8" stroke-linecap="round"/><line x1="230.8" y1="87.2" x2="229.5" y2="103.7" stroke="#ff40ff" stroke-width="1.26" stroke-linecap="round"/><line x1="229.3" y1="104.4" x2="229.3" y2="113.0" stroke="#c8c800" stroke-width="2.8" stroke-linecap="round"/><line x1="229.3" y1="104.4" x2="229.3" y2="113.0" stroke="#ffff30" stroke-width="1.26" stroke-linecap="round"/><line x1="229.3" y1="113.0" x2="237.9" y2="114.4" stroke="#a8a8a8" stroke-width="2.6" stroke-linecap="round"/><line x1="229.3" y1="113.0" x2="237.9" y2="114.4" stroke="#ffffff" stroke-width="1.17" stroke-linecap="round"/><line x1="229.3" y1="113.0" x2="225.7" y2="117.0" stroke="#c8c800" stroke-width="2.6" stroke-linecap="round"/><line x1="229.3" y1="113.0" x2="225.7" y2="117.0" stroke="#ffff30" stroke-width="1.17" stroke-linecap="round"/><line x1="225.7" y1="117.0" x2="222.0" y2="121.0" stroke="#5e5e5e" stroke-width="2.6" stroke-linecap="round"/><line x1="225.7" y1="117.0" x2="222.0" y2="121.0" stroke="#a4a4a4" stroke-width="1.17" stroke-linecap="round"/><line x1="222.0" y1="121.0" x2="212.0" y2="124.0" stroke="#5e5e5e" stroke-width="2.6" stroke-linecap="round"/><line x1="222.0" y1="121.0" x2="212.0" y2="124.0" stroke="#a4a4a4" stroke-width="1.17" stroke-linecap="round"/><path d="M163.5,229.5 L138.3,208.1" stroke="#474747" stroke-width="5.4" stroke-linecap="round"/><line x1="163.5" y1="229.5" x2="138.3" y2="208.1" stroke="#5e5e5e" stroke-width="3.0" stroke-linecap="round"/><line x1="163.5" y1="229.5" x2="138.3" y2="208.1" stroke="#a4a4a4" stroke-width="1.35" stroke-linecap="round"/><line x1="154.5" y1="221.9" x2="138.3" y2="208.1" stroke="#f0f0f0" stroke-width="0.9"/><line x1="138.3" y1="208.1" x2="133.5" y2="204.1" stroke="#a8a8a8" stroke-width="3.0" stroke-linecap="round"/><line x1="138.3" y1="208.1" x2="133.5" y2="204.1" stroke="#ffffff" stroke-width="1.35" stroke-linecap="round"/><path d="M163.5,229.5 L134.7,212.1" stroke="#474747" stroke-width="5.4" stroke-linecap="round"/><line x1="163.5" y1="229.5" x2="134.7" y2="212.1" stroke="#5e5e5e" stroke-width="3.0" stroke-linecap="round"/><line x1="163.5" y1="229.5" x2="134.7" y2="212.1" stroke="#a4a4a4" stroke-width="1.35" stroke-linecap="round"/><line x1="153.2" y1="223.3" x2="134.7" y2="212.1" stroke="#f0f0f0" stroke-width="0.9"/><line x1="134.7" y1="212.1" x2="129.2" y2="208.8" stroke="#a8a8a8" stroke-width="3.0" stroke-linecap="round"/><line x1="134.7" y1="212.1" x2="129.2" y2="208.8" stroke="#ffffff" stroke-width="1.35" stroke-linecap="round"/><path d="M162.5,256.5 L136.2,275.5" stroke="#474747" stroke-width="5.4" stroke-linecap="round"/><line x1="162.5" y1="256.5" x2="136.2" y2="275.5" stroke="#5e5e5e" stroke-width="3.0" stroke-linecap="round"/><line x1="162.5" y1="256.5" x2="136.2" y2="275.5" stroke="#a4a4a4" stroke-width="1.35" stroke-linecap="round"/><line x1="153.1" y1="263.3" x2="136.2" y2="275.5" stroke="#f0f0f0" stroke-width="0.9"/><line x1="136.2" y1="275.5" x2="131.1" y2="279.1" stroke="#a8a8a8" stroke-width="3.0" stroke-linecap="round"/><line x1="136.2" y1="275.5" x2="131.1" y2="279.1" stroke="#ffffff" stroke-width="1.35" stroke-linecap="round"/><path d="M162.5,256.5 L140.5,280.4" stroke="#474747" stroke-width="5.4" stroke-linecap="round"/><line x1="162.5" y1="256.5" x2="140.5" y2="280.4" stroke="#5e5e5e" stroke-width="3.0" stroke-linecap="round"/><line x1="162.5" y1="256.5" x2="140.5" y2="280.4" stroke="#a4a4a4" stroke-width="1.35" stroke-linecap="round"/><line x1="154.7" y1="265.0" x2="140.5" y2="280.4" stroke="#f0f0f0" stroke-width="0.9"/><line x1="140.5" y1="280.4" x2="136.4" y2="284.9" stroke="#a8a8a8" stroke-width="3.0" stroke-linecap="round"/><line x1="140.5" y1="280.4" x2="136.4" y2="284.9" stroke="#ffffff" stroke-width="1.35" stroke-linecap="round"/><path d="M194.0,226.5 L210.3,207.3" stroke="#474747" stroke-width="5.4" stroke-linecap="round"/><line x1="194.0" y1="226.5" x2="210.3" y2="207.3" stroke="#5e5e5e" stroke-width="3.0" stroke-linecap="round"/><line x1="194.0" y1="226.5" x2="210.3" y2="207.3" stroke="#a4a4a4" stroke-width="1.35" stroke-linecap="round"/><line x1="199.8" y1="219.6" x2="210.3" y2="207.3" stroke="#f0f0f0" stroke-width="0.9"/><line x1="210.3" y1="207.3" x2="213.4" y2="203.6" stroke="#a8a8a8" stroke-width="3.0" stroke-linecap="round"/><line x1="210.3" y1="207.3" x2="213.4" y2="203.6" stroke="#ffffff" stroke-width="1.35" stroke-linecap="round"/><path d="M194.0,226.5 L206.3,206.7" stroke="#474747" stroke-width="5.4" stroke-linecap="round"/><line x1="194.0" y1="226.5" x2="206.3" y2="206.7" stroke="#5e5e5e" stroke-width="3.0" stroke-linecap="round"/><line x1="194.0" y1="226.5" x2="206.3" y2="206.7" stroke="#a4a4a4" stroke-width="1.35" stroke-linecap="round"/><line x1="198.4" y1="219.4" x2="206.3" y2="206.7" stroke="#f0f0f0" stroke-width="0.9"/><line x1="206.3" y1="206.7" x2="208.7" y2="203.0" stroke="#a8a8a8" stroke-width="3.0" stroke-linecap="round"/><line x1="206.3" y1="206.7" x2="208.7" y2="203.0" stroke="#ffffff" stroke-width="1.35" stroke-linecap="round"/><path d="M199.3,258.4 L215.3,278.4" stroke="#474747" stroke-width="5.4" stroke-linecap="round"/><line x1="199.3" y1="258.4" x2="215.3" y2="278.4" stroke="#5e5e5e" stroke-width="3.0" stroke-linecap="round"/><line x1="199.3" y1="258.4" x2="215.3" y2="278.4" stroke="#a4a4a4" stroke-width="1.35" stroke-linecap="round"/><line x1="205.0" y1="265.5" x2="215.3" y2="278.4" stroke="#f0f0f0" stroke-width="0.9"/><line x1="215.3" y1="278.4" x2="218.4" y2="282.2" stroke="#a8a8a8" stroke-width="3.0" stroke-linecap="round"/><line x1="215.3" y1="278.4" x2="218.4" y2="282.2" stroke="#ffffff" stroke-width="1.35" stroke-linecap="round"/><path d="M199.3,258.4 L210.5,280.5" stroke="#474747" stroke-width="5.4" stroke-linecap="round"/><line x1="199.3" y1="258.4" x2="210.5" y2="280.5" stroke="#5e5e5e" stroke-width="3.0" stroke-linecap="round"/><line x1="199.3" y1="258.4" x2="210.5" y2="280.5" stroke="#a4a4a4" stroke-width="1.35" stroke-linecap="round"/><line x1="203.3" y1="266.3" x2="210.5" y2="280.5" stroke="#f0f0f0" stroke-width="0.9"/><line x1="210.5" y1="280.5" x2="212.6" y2="284.7" stroke="#a8a8a8" stroke-width="3.0" stroke-linecap="round"/><line x1="210.5" y1="280.5" x2="212.6" y2="284.7" stroke="#ffffff" stroke-width="1.35" stroke-linecap="round"/><line x1="178.7" y1="180.6" x2="179.0" y2="177.1" stroke="#5e5e5e" stroke-width="3.3" stroke-linecap="round"/><line x1="178.7" y1="180.6" x2="179.0" y2="177.1" stroke="#a4a4a4" stroke-width="1.48" stroke-linecap="round"/><line x1="179.0" y1="177.1" x2="179.2" y2="173.6" stroke="#a8a8a8" stroke-width="3.3" stroke-linecap="round"/><line x1="179.0" y1="177.1" x2="179.2" y2="173.6" stroke="#ffffff" stroke-width="1.48" stroke-linecap="round"/><line x1="187.3" y1="186.4" x2="190.5" y2="184.9" stroke="#5e5e5e" stroke-width="3.3" stroke-linecap="round"/><line x1="187.3" y1="186.4" x2="190.5" y2="184.9" stroke="#a4a4a4" stroke-width="1.48" stroke-linecap="round"/><line x1="190.5" y1="184.9" x2="193.6" y2="183.4" stroke="#a8a8a8" stroke-width="3.3" stroke-linecap="round"/><line x1="190.5" y1="184.9" x2="193.6" y2="183.4" stroke="#ffffff" stroke-width="1.48" stroke-linecap="round"/><line x1="186.6" y1="196.8" x2="189.5" y2="198.8" stroke="#5e5e5e" stroke-width="3.3" stroke-linecap="round"/><line x1="186.6" y1="196.8" x2="189.5" y2="198.8" stroke="#a4a4a4" stroke-width="1.48" stroke-linecap="round"/><line x1="189.5" y1="198.8" x2="192.4" y2="200.7" stroke="#a8a8a8" stroke-width="3.3" stroke-linecap="round"/><line x1="189.5" y1="198.8" x2="192.4" y2="200.7" stroke="#ffffff" stroke-width="1.48" stroke-linecap="round"/><line x1="168.7" y1="195.6" x2="165.5" y2="197.1" stroke="#5e5e5e" stroke-width="3.3" stroke-linecap="round"/><line x1="168.7" y1="195.6" x2="165.5" y2="197.1" stroke="#a4a4a4" stroke-width="1.48" stroke-linecap="round"/><line x1="165.5" y1="197.1" x2="162.4" y2="198.6" stroke="#a8a8a8" stroke-width="3.3" stroke-linecap="round"/><line x1="165.5" y1="197.1" x2="162.4" y2="198.6" stroke="#ffffff" stroke-width="1.48" stroke-linecap="round"/><line x1="169.4" y1="185.2" x2="166.5" y2="183.2" stroke="#5e5e5e" stroke-width="3.3" stroke-linecap="round"/><line x1="169.4" y1="185.2" x2="166.5" y2="183.2" stroke="#a4a4a4" stroke-width="1.48" stroke-linecap="round"/><line x1="166.5" y1="183.2" x2="163.6" y2="181.3" stroke="#a8a8a8" stroke-width="3.3" stroke-linecap="round"/><line x1="166.5" y1="183.2" x2="163.6" y2="181.3" stroke="#ffffff" stroke-width="1.48" stroke-linecap="round"/><line x1="178.7" y1="180.6" x2="187.3" y2="186.4" stroke="#5e5e5e" stroke-width="3.3" stroke-linecap="round"/><line x1="178.7" y1="180.6" x2="187.3" y2="186.4" stroke="#a4a4a4" stroke-width="1.48" stroke-linecap="round"/><line x1="187.3" y1="186.4" x2="186.6" y2="196.8" stroke="#5e5e5e" stroke-width="3.3" stroke-linecap="round"/><line x1="187.3" y1="186.4" x2="186.6" y2="196.8" stroke="#a4a4a4" stroke-width="1.48" stroke-linecap="round"/><line x1="186.6" y1="196.8" x2="177.3" y2="201.4" stroke="#5e5e5e" stroke-width="3.3" stroke-linecap="round"/><line x1="186.6" y1="196.8" x2="177.3" y2="201.4" stroke="#a4a4a4" stroke-width="1.48" stroke-linecap="round"/><line x1="177.3" y1="201.4" x2="168.7" y2="195.6" stroke="#5e5e5e" stroke-width="3.3" stroke-linecap="round"/><line x1="177.3" y1="201.4" x2="168.7" y2="195.6" stroke="#a4a4a4" stroke-width="1.48" stroke-linecap="round"/><line x1="168.7" y1="195.6" x2="169.4" y2="185.2" stroke="#5e5e5e" stroke-width="3.3" stroke-linecap="round"/><line x1="168.7" y1="195.6" x2="169.4" y2="185.2" stroke="#a4a4a4" stroke-width="1.48" stroke-linecap="round"/><line x1="169.4" y1="185.2" x2="178.7" y2="180.6" stroke="#5e5e5e" stroke-width="3.3" stroke-linecap="round"/><line x1="169.4" y1="185.2" x2="178.7" y2="180.6" stroke="#a4a4a4" stroke-width="1.48" stroke-linecap="round"/><line x1="179.3" y1="201.5" x2="178.6" y2="210.8" stroke="#5e5e5e" stroke-width="2.6" stroke-linecap="round"/><line x1="179.3" y1="201.5" x2="178.6" y2="210.8" stroke="#a4a4a4" stroke-width="1.17" stroke-linecap="round"/><line x1="122.4" y1="235.0" x2="124.4" y2="232.3" stroke="#5e5e5e" stroke-width="3.3" stroke-linecap="round"/><line x1="122.4" y1="235.0" x2="124.4" y2="232.3" stroke="#a4a4a4" stroke-width="1.48" stroke-linecap="round"/><line x1="124.4" y1="232.3" x2="126.4" y2="229.6" stroke="#a8a8a8" stroke-width="3.3" stroke-linecap="round"/><line x1="124.4" y1="232.3" x2="126.4" y2="229.6" stroke="#ffffff" stroke-width="1.48" stroke-linecap="round"/><line x1="122.4" y1="250.4" x2="124.4" y2="253.1" stroke="#5e5e5e" stroke-width="3.3" stroke-linecap="round"/><line x1="122.4" y1="250.4" x2="124.4" y2="253.1" stroke="#a4a4a4" stroke-width="1.48" stroke-linecap="round"/><line x1="124.4" y1="253.1" x2="126.4" y2="255.8" stroke="#a8a8a8" stroke-width="3.3" stroke-linecap="round"/><line x1="124.4" y1="253.1" x2="126.4" y2="255.8" stroke="#ffffff" stroke-width="1.48" stroke-linecap="round"/><line x1="111.0" y1="250.4" x2="109.0" y2="253.1" stroke="#5e5e5e" stroke-width="3.3" stroke-linecap="round"/><line x1="111.0" y1="250.4" x2="109.0" y2="253.1" stroke="#a4a4a4" stroke-width="1.48" stroke-linecap="round"/><line x1="109.0" y1="253.1" x2="107.0" y2="255.8" stroke="#a8a8a8" stroke-width="3.3" stroke-linecap="round"/><line x1="109.0" y1="253.1" x2="107.0" y2="255.8" stroke="#ffffff" stroke-width="1.48" stroke-linecap="round"/><line x1="105.2" y1="242.7" x2="101.2" y2="242.7" stroke="#5e5e5e" stroke-width="3.3" stroke-linecap="round"/><line x1="105.2" y1="242.7" x2="101.2" y2="242.7" stroke="#a4a4a4" stroke-width="1.48" stroke-linecap="round"/><line x1="101.2" y1="242.7" x2="97.2" y2="242.7" stroke="#a8a8a8" stroke-width="3.3" stroke-linecap="round"/><line x1="101.2" y1="242.7" x2="97.2" y2="242.7" stroke="#ffffff" stroke-width="1.48" stroke-linecap="round"/><line x1="111.0" y1="235.0" x2="109.0" y2="232.3" stroke="#5e5e5e" stroke-width="3.3" stroke-linecap="round"/><line x1="111.0" y1="235.0" x2="109.0" y2="232.3" stroke="#a4a4a4" stroke-width="1.48" stroke-linecap="round"/><line x1="109.0" y1="232.3" x2="107.0" y2="229.6" stroke="#a8a8a8" stroke-width="3.3" stroke-linecap="round"/><line x1="109.0" y1="232.3" x2="107.0" y2="229.6" stroke="#ffffff" stroke-width="1.48" stroke-linecap="round"/><line x1="122.4" y1="235.0" x2="128.2" y2="242.7" stroke="#5e5e5e" stroke-width="3.3" stroke-linecap="round"/><line x1="122.4" y1="235.0" x2="128.2" y2="242.7" stroke="#a4a4a4" stroke-width="1.48" stroke-linecap="round"/><line x1="128.2" y1="242.7" x2="122.4" y2="250.4" stroke="#5e5e5e" stroke-width="3.3" stroke-linecap="round"/><line x1="128.2" y1="242.7" x2="122.4" y2="250.4" stroke="#a4a4a4" stroke-width="1.48" stroke-linecap="round"/><line x1="122.4" y1="250.4" x2="111.0" y2="250.4" stroke="#5e5e5e" stroke-width="3.3" stroke-linecap="round"/><line x1="122.4" y1="250.4" x2="111.0" y2="250.4" stroke="#a4a4a4" stroke-width="1.48" stroke-linecap="round"/><line x1="111.0" y1="250.4" x2="105.2" y2="242.7" stroke="#5e5e5e" stroke-width="3.3" stroke-linecap="round"/><line x1="111.0" y1="250.4" x2="105.2" y2="242.7" stroke="#a4a4a4" stroke-width="1.48" stroke-linecap="round"/><line x1="105.2" y1="242.7" x2="111.0" y2="235.0" stroke="#5e5e5e" stroke-width="3.3" stroke-linecap="round"/><line x1="105.2" y1="242.7" x2="111.0" y2="235.0" stroke="#a4a4a4" stroke-width="1.48" stroke-linecap="round"/><line x1="111.0" y1="235.0" x2="122.4" y2="235.0" stroke="#5e5e5e" stroke-width="3.3" stroke-linecap="round"/><line x1="111.0" y1="235.0" x2="122.4" y2="235.0" stroke="#a4a4a4" stroke-width="1.48" stroke-linecap="round"/><line x1="128.2" y1="242.9" x2="141.3" y2="242.9" stroke="#5e5e5e" stroke-width="2.6" stroke-linecap="round"/><line x1="128.2" y1="242.9" x2="141.3" y2="242.9" stroke="#a4a4a4" stroke-width="1.17" stroke-linecap="round"/><line x1="185.7" y1="289.6" x2="188.7" y2="287.8" stroke="#5e5e5e" stroke-width="3.3" stroke-linecap="round"/><line x1="185.7" y1="289.6" x2="188.7" y2="287.8" stroke="#a4a4a4" stroke-width="1.48" stroke-linecap="round"/><line x1="188.7" y1="287.8" x2="191.7" y2="286.1" stroke="#a8a8a8" stroke-width="3.3" stroke-linecap="round"/><line x1="188.7" y1="287.8" x2="191.7" y2="286.1" stroke="#ffffff" stroke-width="1.48" stroke-linecap="round"/><line x1="185.7" y1="299.4" x2="188.7" y2="301.2" stroke="#5e5e5e" stroke-width="3.3" stroke-linecap="round"/><line x1="185.7" y1="299.4" x2="188.7" y2="301.2" stroke="#a4a4a4" stroke-width="1.48" stroke-linecap="round"/><line x1="188.7" y1="301.2" x2="191.7" y2="302.9" stroke="#a8a8a8" stroke-width="3.3" stroke-linecap="round"/><line x1="188.7" y1="301.2" x2="191.7" y2="302.9" stroke="#ffffff" stroke-width="1.48" stroke-linecap="round"/><line x1="177.1" y1="304.4" x2="177.1" y2="307.9" stroke="#5e5e5e" stroke-width="3.3" stroke-linecap="round"/><line x1="177.1" y1="304.4" x2="177.1" y2="307.9" stroke="#a4a4a4" stroke-width="1.48" stroke-linecap="round"/><line x1="177.1" y1="307.9" x2="177.1" y2="311.4" stroke="#a8a8a8" stroke-width="3.3" stroke-linecap="round"/><line x1="177.1" y1="307.9" x2="177.1" y2="311.4" stroke="#ffffff" stroke-width="1.48" stroke-linecap="round"/><line x1="168.5" y1="299.4" x2="165.5" y2="301.2" stroke="#5e5e5e" stroke-width="3.3" stroke-linecap="round"/><line x1="168.5" y1="299.4" x2="165.5" y2="301.2" stroke="#a4a4a4" stroke-width="1.48" stroke-linecap="round"/><line x1="165.5" y1="301.2" x2="162.5" y2="302.9" stroke="#a8a8a8" stroke-width="3.3" stroke-linecap="round"/><line x1="165.5" y1="301.2" x2="162.5" y2="302.9" stroke="#ffffff" stroke-width="1.48" stroke-linecap="round"/><line x1="168.5" y1="289.6" x2="165.5" y2="287.8" stroke="#5e5e5e" stroke-width="3.3" stroke-linecap="round"/><line x1="168.5" y1="289.6" x2="165.5" y2="287.8" stroke="#a4a4a4" stroke-width="1.48" stroke-linecap="round"/><line x1="165.5" y1="287.8" x2="162.5" y2="286.1" stroke="#a8a8a8" stroke-width="3.3" stroke-linecap="round"/><line x1="165.5" y1="287.8" x2="162.5" y2="286.1" stroke="#ffffff" stroke-width="1.48" stroke-linecap="round"/><line x1="177.1" y1="284.6" x2="185.7" y2="289.6" stroke="#5e5e5e" stroke-width="3.3" stroke-linecap="round"/><line x1="177.1" y1="284.6" x2="185.7" y2="289.6" stroke="#a4a4a4" stroke-width="1.48" stroke-linecap="round"/><line x1="185.7" y1="289.6" x2="185.7" y2="299.4" stroke="#5e5e5e" stroke-width="3.3" stroke-linecap="round"/><line x1="185.7" y1="289.6" x2="185.7" y2="299.4" stroke="#a4a4a4" stroke-width="1.48" stroke-linecap="round"/><line x1="185.7" y1="299.4" x2="177.1" y2="304.4" stroke="#5e5e5e" stroke-width="3.3" stroke-linecap="round"/><line x1="185.7" y1="299.4" x2="177.1" y2="304.4" stroke="#a4a4a4" stroke-width="1.48" stroke-linecap="round"/><line x1="177.1" y1="304.4" x2="168.5" y2="299.4" stroke="#5e5e5e" stroke-width="3.3" stroke-linecap="round"/><line x1="177.1" y1="304.4" x2="168.5" y2="299.4" stroke="#a4a4a4" stroke-width="1.48" stroke-linecap="round"/><line x1="168.5" y1="299.4" x2="168.5" y2="289.6" stroke="#5e5e5e" stroke-width="3.3" stroke-linecap="round"/><line x1="168.5" y1="299.4" x2="168.5" y2="289.6" stroke="#a4a4a4" stroke-width="1.48" stroke-linecap="round"/><line x1="168.5" y1="289.6" x2="177.1" y2="284.6" stroke="#5e5e5e" stroke-width="3.3" stroke-linecap="round"/><line x1="168.5" y1="289.6" x2="177.1" y2="284.6" stroke="#a4a4a4" stroke-width="1.48" stroke-linecap="round"/><line x1="177.1" y1="284.7" x2="177.1" y2="274.5" stroke="#5e5e5e" stroke-width="2.6" stroke-linecap="round"/><line x1="177.1" y1="284.7" x2="177.1" y2="274.5" stroke="#a4a4a4" stroke-width="1.17" stroke-linecap="round"/><line x1="243.9" y1="235.6" x2="246.0" y2="232.8" stroke="#5e5e5e" stroke-width="3.3" stroke-linecap="round"/><line x1="243.9" y1="235.6" x2="246.0" y2="232.8" stroke="#a4a4a4" stroke-width="1.48" stroke-linecap="round"/><line x1="246.0" y1="232.8" x2="248.2" y2="230.1" stroke="#a8a8a8" stroke-width="3.3" stroke-linecap="round"/><line x1="246.0" y1="232.8" x2="248.2" y2="230.1" stroke="#ffffff" stroke-width="1.48" stroke-linecap="round"/><line x1="249.7" y1="243.0" x2="253.9" y2="243.0" stroke="#5e5e5e" stroke-width="3.3" stroke-linecap="round"/><line x1="249.7" y1="243.0" x2="253.9" y2="243.0" stroke="#a4a4a4" stroke-width="1.48" stroke-linecap="round"/><line x1="253.9" y1="243.0" x2="258.2" y2="243.0" stroke="#a8a8a8" stroke-width="3.3" stroke-linecap="round"/><line x1="253.9" y1="243.0" x2="258.2" y2="243.0" stroke="#ffffff" stroke-width="1.48" stroke-linecap="round"/><line x1="243.9" y1="250.4" x2="246.0" y2="253.2" stroke="#5e5e5e" stroke-width="3.3" stroke-linecap="round"/><line x1="243.9" y1="250.4" x2="246.0" y2="253.2" stroke="#a4a4a4" stroke-width="1.48" stroke-linecap="round"/><line x1="246.0" y1="253.2" x2="248.2" y2="255.9" stroke="#a8a8a8" stroke-width="3.3" stroke-linecap="round"/><line x1="246.0" y1="253.2" x2="248.2" y2="255.9" stroke="#ffffff" stroke-width="1.48" stroke-linecap="round"/><line x1="232.3" y1="250.4" x2="230.2" y2="253.2" stroke="#5e5e5e" stroke-width="3.3" stroke-linecap="round"/><line x1="232.3" y1="250.4" x2="230.2" y2="253.2" stroke="#a4a4a4" stroke-width="1.48" stroke-linecap="round"/><line x1="230.2" y1="253.2" x2="228.1" y2="255.9" stroke="#a8a8a8" stroke-width="3.3" stroke-linecap="round"/><line x1="230.2" y1="253.2" x2="228.1" y2="255.9" stroke="#ffffff" stroke-width="1.48" stroke-linecap="round"/><line x1="232.3" y1="235.6" x2="230.2" y2="232.8" stroke="#5e5e5e" stroke-width="3.3" stroke-linecap="round"/><line x1="232.3" y1="235.6" x2="230.2" y2="232.8" stroke="#a4a4a4" stroke-width="1.48" stroke-linecap="round"/><line x1="230.2" y1="232.8" x2="228.0" y2="230.1" stroke="#a8a8a8" stroke-width="3.3" stroke-linecap="round"/><line x1="230.2" y1="232.8" x2="228.0" y2="230.1" stroke="#ffffff" stroke-width="1.48" stroke-linecap="round"/><line x1="243.9" y1="235.6" x2="249.7" y2="243.0" stroke="#5e5e5e" stroke-width="3.3" stroke-linecap="round"/><line x1="243.9" y1="235.6" x2="249.7" y2="243.0" stroke="#a4a4a4" stroke-width="1.48" stroke-linecap="round"/><line x1="249.7" y1="243.0" x2="243.9" y2="250.4" stroke="#5e5e5e" stroke-width="3.3" stroke-linecap="round"/><line x1="249.7" y1="243.0" x2="243.9" y2="250.4" stroke="#a4a4a4" stroke-width="1.48" stroke-linecap="round"/><line x1="243.9" y1="250.4" x2="232.3" y2="250.4" stroke="#5e5e5e" stroke-width="3.3" stroke-linecap="round"/><line x1="243.9" y1="250.4" x2="232.3" y2="250.4" stroke="#a4a4a4" stroke-width="1.48" stroke-linecap="round"/><line x1="232.3" y1="250.4" x2="226.5" y2="243.0" stroke="#5e5e5e" stroke-width="3.3" stroke-linecap="round"/><line x1="232.3" y1="250.4" x2="226.5" y2="243.0" stroke="#a4a4a4" stroke-width="1.48" stroke-linecap="round"/><line x1="226.5" y1="243.0" x2="232.3" y2="235.6" stroke="#5e5e5e" stroke-width="3.3" stroke-linecap="round"/><line x1="226.5" y1="243.0" x2="232.3" y2="235.6" stroke="#a4a4a4" stroke-width="1.48" stroke-linecap="round"/><line x1="232.3" y1="235.6" x2="243.9" y2="235.6" stroke="#5e5e5e" stroke-width="3.3" stroke-linecap="round"/><line x1="232.3" y1="235.6" x2="243.9" y2="235.6" stroke="#a4a4a4" stroke-width="1.48" stroke-linecap="round"/><line x1="226.5" y1="242.8" x2="216.4" y2="243.6" stroke="#5e5e5e" stroke-width="2.6" stroke-linecap="round"/><line x1="226.5" y1="242.8" x2="216.4" y2="243.6" stroke="#a4a4a4" stroke-width="1.17" stroke-linecap="round"/><line x1="162.0" y1="229.7" x2="164.3" y2="223.1" stroke="#5fb0b4" stroke-width="3.2" stroke-linecap="round"/><line x1="162.0" y1="229.7" x2="164.3" y2="223.1" stroke="#b8f0f0" stroke-width="1.44" stroke-linecap="round"/><line x1="164.3" y1="223.1" x2="166.7" y2="216.5" stroke="#b80000" stroke-width="3.2" stroke-linecap="round"/><line x1="164.3" y1="223.1" x2="166.7" y2="216.5" stroke="#ff2424" stroke-width="1.44" stroke-linecap="round"/><line x1="166.7" y1="216.5" x2="179.1" y2="212.6" stroke="#b80000" stroke-width="3.2" stroke-linecap="round"/><line x1="166.7" y1="216.5" x2="179.1" y2="212.6" stroke="#ff2424" stroke-width="1.44" stroke-linecap="round"/><line x1="179.1" y1="212.6" x2="188.7" y2="216.5" stroke="#b80000" stroke-width="3.2" stroke-linecap="round"/><line x1="179.1" y1="212.6" x2="188.7" y2="216.5" stroke="#ff2424" stroke-width="1.44" stroke-linecap="round"/><line x1="188.7" y1="216.5" x2="190.3" y2="223.3" stroke="#b80000" stroke-width="3.2" stroke-linecap="round"/><line x1="188.7" y1="216.5" x2="190.3" y2="223.3" stroke="#ff2424" stroke-width="1.44" stroke-linecap="round"/><line x1="190.3" y1="223.3" x2="192.0" y2="230.2" stroke="#5fb0b4" stroke-width="3.2" stroke-linecap="round"/><line x1="190.3" y1="223.3" x2="192.0" y2="230.2" stroke="#b8f0f0" stroke-width="1.44" stroke-linecap="round"/><circle cx="179.1" cy="212.6" r="1.7" fill="url(#grg)"/><line x1="162.0" y1="229.7" x2="153.8" y2="231.8" stroke="#5fb0b4" stroke-width="3.2" stroke-linecap="round"/><line x1="162.0" y1="229.7" x2="153.8" y2="231.8" stroke="#b8f0f0" stroke-width="1.44" stroke-linecap="round"/><line x1="153.8" y1="231.8" x2="145.6" y2="233.8" stroke="#b80000" stroke-width="3.2" stroke-linecap="round"/><line x1="153.8" y1="231.8" x2="145.6" y2="233.8" stroke="#ff2424" stroke-width="1.44" stroke-linecap="round"/><line x1="145.6" y1="233.8" x2="141.2" y2="242.7" stroke="#b80000" stroke-width="3.2" stroke-linecap="round"/><line x1="145.6" y1="233.8" x2="141.2" y2="242.7" stroke="#ff2424" stroke-width="1.44" stroke-linecap="round"/><line x1="141.2" y1="242.7" x2="145.6" y2="250.7" stroke="#b80000" stroke-width="3.2" stroke-linecap="round"/><line x1="141.2" y1="242.7" x2="145.6" y2="250.7" stroke="#ff2424" stroke-width="1.44" stroke-linecap="round"/><line x1="145.6" y1="250.7" x2="153.8" y2="252.8" stroke="#b80000" stroke-width="3.2" stroke-linecap="round"/><line x1="145.6" y1="250.7" x2="153.8" y2="252.8" stroke="#ff2424" stroke-width="1.44" stroke-linecap="round"/><line x1="153.8" y1="252.8" x2="162.0" y2="254.9" stroke="#5fb0b4" stroke-width="3.2" stroke-linecap="round"/><line x1="153.8" y1="252.8" x2="162.0" y2="254.9" stroke="#b8f0f0" stroke-width="1.44" stroke-linecap="round"/><circle cx="141.2" cy="242.7" r="1.7" fill="url(#grg)"/><line x1="192.0" y1="230.2" x2="200.7" y2="233.1" stroke="#5fb0b4" stroke-width="3.2" stroke-linecap="round"/><line x1="192.0" y1="230.2" x2="200.7" y2="233.1" stroke="#b8f0f0" stroke-width="1.44" stroke-linecap="round"/><line x1="200.7" y1="233.1" x2="209.4" y2="235.9" stroke="#b80000" stroke-width="3.2" stroke-linecap="round"/><line x1="200.7" y1="233.1" x2="209.4" y2="235.9" stroke="#ff2424" stroke-width="1.44" stroke-linecap="round"/><line x1="209.4" y1="235.9" x2="216.4" y2="243.6" stroke="#b80000" stroke-width="3.2" stroke-linecap="round"/><line x1="209.4" y1="235.9" x2="216.4" y2="243.6" stroke="#ff2424" stroke-width="1.44" stroke-linecap="round"/><line x1="216.4" y1="243.6" x2="208.6" y2="250.6" stroke="#b80000" stroke-width="3.2" stroke-linecap="round"/><line x1="216.4" y1="243.6" x2="208.6" y2="250.6" stroke="#ff2424" stroke-width="1.44" stroke-linecap="round"/><line x1="208.6" y1="250.6" x2="200.6" y2="253.0" stroke="#b80000" stroke-width="3.2" stroke-linecap="round"/><line x1="208.6" y1="250.6" x2="200.6" y2="253.0" stroke="#ff2424" stroke-width="1.44" stroke-linecap="round"/><line x1="200.6" y1="253.0" x2="192.6" y2="255.4" stroke="#5fb0b4" stroke-width="3.2" stroke-linecap="round"/><line x1="200.6" y1="253.0" x2="192.6" y2="255.4" stroke="#b8f0f0" stroke-width="1.44" stroke-linecap="round"/><circle cx="216.4" cy="243.6" r="1.7" fill="url(#grg)"/><line x1="162.0" y1="254.9" x2="164.8" y2="262.9" stroke="#5fb0b4" stroke-width="3.2" stroke-linecap="round"/><line x1="162.0" y1="254.9" x2="164.8" y2="262.9" stroke="#b8f0f0" stroke-width="1.44" stroke-linecap="round"/><line x1="164.8" y1="262.9" x2="167.6" y2="270.9" stroke="#b80000" stroke-width="3.2" stroke-linecap="round"/><line x1="164.8" y1="262.9" x2="167.6" y2="270.9" stroke="#ff2424" stroke-width="1.44" stroke-linecap="round"/><line x1="167.6" y1="270.9" x2="177.1" y2="274.5" stroke="#b80000" stroke-width="3.2" stroke-linecap="round"/><line x1="167.6" y1="270.9" x2="177.1" y2="274.5" stroke="#ff2424" stroke-width="1.44" stroke-linecap="round"/><line x1="177.1" y1="274.5" x2="185.8" y2="270.9" stroke="#b80000" stroke-width="3.2" stroke-linecap="round"/><line x1="177.1" y1="274.5" x2="185.8" y2="270.9" stroke="#ff2424" stroke-width="1.44" stroke-linecap="round"/><line x1="185.8" y1="270.9" x2="189.2" y2="263.1" stroke="#b80000" stroke-width="3.2" stroke-linecap="round"/><line x1="185.8" y1="270.9" x2="189.2" y2="263.1" stroke="#ff2424" stroke-width="1.44" stroke-linecap="round"/><line x1="189.2" y1="263.1" x2="192.6" y2="255.4" stroke="#5fb0b4" stroke-width="3.2" stroke-linecap="round"/><line x1="189.2" y1="263.1" x2="192.6" y2="255.4" stroke="#b8f0f0" stroke-width="1.44" stroke-linecap="round"/><circle cx="177.1" cy="274.5" r="1.7" fill="url(#grg)"/><line x1="162.0" y1="229.7" x2="192.0" y2="230.2" stroke="#5fb0b4" stroke-width="2.2" stroke-linecap="round"/><line x1="162.0" y1="229.7" x2="192.0" y2="230.2" stroke="#b8f0f0" stroke-width="0.99" stroke-linecap="round"/><line x1="192.0" y1="230.2" x2="192.6" y2="255.4" stroke="#5fb0b4" stroke-width="2.2" stroke-linecap="round"/><line x1="192.0" y1="230.2" x2="192.6" y2="255.4" stroke="#b8f0f0" stroke-width="0.99" stroke-linecap="round"/><line x1="192.6" y1="255.4" x2="162.0" y2="254.9" stroke="#5fb0b4" stroke-width="2.2" stroke-linecap="round"/><line x1="192.6" y1="255.4" x2="162.0" y2="254.9" stroke="#b8f0f0" stroke-width="0.99" stroke-linecap="round"/><line x1="162.0" y1="254.9" x2="162.0" y2="229.7" stroke="#5fb0b4" stroke-width="2.2" stroke-linecap="round"/><line x1="162.0" y1="254.9" x2="162.0" y2="229.7" stroke="#b8f0f0" stroke-width="0.99" stroke-linecap="round"/><line x1="177.6" y1="224.7" x2="177.6" y2="260.4" stroke="#5fb0b4" stroke-width="2.2" stroke-linecap="round"/><line x1="177.6" y1="224.7" x2="177.6" y2="260.4" stroke="#b8f0f0" stroke-width="0.99" stroke-linecap="round"/><line x1="157.0" y1="242.6" x2="196.4" y2="242.6" stroke="#5fb0b4" stroke-width="2.2" stroke-linecap="round"/><line x1="157.0" y1="242.6" x2="196.4" y2="242.6" stroke="#b8f0f0" stroke-width="0.99" stroke-linecap="round"/><rect x="176.0" y="225.2" width="3.2" height="11" fill="#d00000"/><ellipse cx="177.6" cy="229.3" rx="8.2" ry="1.7" fill="#cc0000"/><ellipse cx="177.6" cy="232.3" rx="8.2" ry="1.7" fill="#c00000"/><ellipse cx="177.6" cy="228.9" rx="5" ry="0.8" fill="#ff3838"/><rect x="156.0" y="241.0" width="14" height="3.2" fill="#d00000"/><ellipse cx="161.6" cy="242.6" rx="1.8" ry="7" fill="#cc0000"/><ellipse cx="164.6" cy="242.6" rx="1.8" ry="7" fill="#c00000"/><ellipse cx="161.2" cy="242.6" rx="0.8" ry="4.5" fill="#ff3838"/><rect x="183.4" y="242.0" width="14" height="3.2" fill="#d00000"/><ellipse cx="189.0" cy="243.6" rx="1.8" ry="7" fill="#cc0000"/><ellipse cx="192.0" cy="243.6" rx="1.8" ry="7" fill="#c00000"/><ellipse cx="188.6" cy="243.6" rx="0.8" ry="4.5" fill="#ff3838"/><rect x="176.0" y="248.9" width="3.2" height="11" fill="#d00000"/><ellipse cx="177.6" cy="253.0" rx="8.2" ry="1.7" fill="#cc0000"/><ellipse cx="177.6" cy="256.0" rx="8.2" ry="1.7" fill="#c00000"/><ellipse cx="177.6" cy="252.6" rx="5" ry="0.8" fill="#ff3838"/><line x1="162.0" y1="229.7" x2="192.6" y2="255.4" stroke="#b80000" stroke-width="3.8" stroke-linecap="round"/><line x1="162.0" y1="229.7" x2="192.6" y2="255.4" stroke="#ff2424" stroke-width="1.71" stroke-linecap="round"/><line x1="192.0" y1="230.2" x2="162.0" y2="254.9" stroke="#b80000" stroke-width="3.8" stroke-linecap="round"/><line x1="192.0" y1="230.2" x2="162.0" y2="254.9" stroke="#ff2424" stroke-width="1.71" stroke-linecap="round"/><line x1="177.6" y1="242.6" x2="169.0" y2="235.5" stroke="#5fb0b4" stroke-width="2.4" stroke-linecap="round"/><line x1="177.6" y1="242.6" x2="169.0" y2="235.5" stroke="#b8f0f0" stroke-width="1.08" stroke-linecap="round"/><line x1="177.6" y1="242.6" x2="185.5" y2="235.8" stroke="#5fb0b4" stroke-width="2.4" stroke-linecap="round"/><line x1="177.6" y1="242.6" x2="185.5" y2="235.8" stroke="#b8f0f0" stroke-width="1.08" stroke-linecap="round"/><line x1="177.6" y1="242.6" x2="169.0" y2="249.4" stroke="#5fb0b4" stroke-width="2.4" stroke-linecap="round"/><line x1="177.6" y1="242.6" x2="169.0" y2="249.4" stroke="#b8f0f0" stroke-width="1.08" stroke-linecap="round"/><line x1="177.6" y1="242.6" x2="185.8" y2="249.6" stroke="#5fb0b4" stroke-width="2.4" stroke-linecap="round"/><line x1="177.6" y1="242.6" x2="185.8" y2="249.6" stroke="#b8f0f0" stroke-width="1.08" stroke-linecap="round"/><line x1="177.6" y1="227.6" x2="177.6" y2="224.3" stroke="#a8a8a8" stroke-width="2.4" stroke-linecap="round"/><line x1="177.6" y1="227.6" x2="177.6" y2="224.3" stroke="#ffffff" stroke-width="1.08" stroke-linecap="round"/><line x1="159.1" y1="242.6" x2="154.6" y2="242.6" stroke="#a8a8a8" stroke-width="2.4" stroke-linecap="round"/><line x1="159.1" y1="242.6" x2="154.6" y2="242.6" stroke="#ffffff" stroke-width="1.08" stroke-linecap="round"/><line x1="194.1" y1="243.6" x2="198.6" y2="243.6" stroke="#a8a8a8" stroke-width="2.4" stroke-linecap="round"/><line x1="194.1" y1="243.6" x2="198.6" y2="243.6" stroke="#ffffff" stroke-width="1.08" stroke-linecap="round"/><line x1="177.6" y1="257.6" x2="177.6" y2="260.8" stroke="#a8a8a8" stroke-width="2.4" stroke-linecap="round"/><line x1="177.6" y1="257.6" x2="177.6" y2="260.8" stroke="#ffffff" stroke-width="1.08" stroke-linecap="round"/><circle cx="162.0" cy="229.7" r="1.9" fill="url(#grc)"/><circle cx="192.0" cy="230.2" r="1.9" fill="url(#grc)"/><circle cx="162.0" cy="254.9" r="1.9" fill="url(#grc)"/><circle cx="192.6" cy="255.4" r="1.9" fill="url(#grc)"/><circle cx="177.6" cy="242.6" r="2.4" fill="url(#grc)"/><path d="M196.5,184 Q206,190 214.1,201.7" stroke="#c000c0" stroke-width="2.8" fill="none" stroke-linecap="round"/><path d="M196.5,184 Q206,190 214.1,201.7" stroke="#ff50ff" stroke-width="1.1" fill="none" stroke-linecap="round"/><circle cx="196.5" cy="184.0" r="2.2" fill="url(#grr)"/><line x1="214.1" y1="201.7" x2="220.8" y2="209.3" stroke="#c8c800" stroke-width="2.8" stroke-linecap="round"/><line x1="214.1" y1="201.7" x2="220.8" y2="209.3" stroke="#ffff30" stroke-width="1.26" stroke-linecap="round"/><line x1="220.8" y1="209.3" x2="215.6" y2="212.2" stroke="#c8c800" stroke-width="2.6" stroke-linecap="round"/><line x1="220.8" y1="209.3" x2="215.6" y2="212.2" stroke="#ffff30" stroke-width="1.17" stroke-linecap="round"/><line x1="215.6" y1="212.2" x2="210.3" y2="215.0" stroke="#5e5e5e" stroke-width="2.6" stroke-linecap="round"/><line x1="215.6" y1="212.2" x2="210.3" y2="215.0" stroke="#a4a4a4" stroke-width="1.17" stroke-linecap="round"/><line x1="210.3" y1="215.0" x2="200.0" y2="222.0" stroke="#5e5e5e" stroke-width="2.6" stroke-linecap="round"/><line x1="210.3" y1="215.0" x2="200.0" y2="222.0" stroke="#a4a4a4" stroke-width="1.17" stroke-linecap="round"/><line x1="210.3" y1="215.0" x2="211.4" y2="218.0" stroke="#5e5e5e" stroke-width="2.6" stroke-linecap="round"/><line x1="210.3" y1="215.0" x2="211.4" y2="218.0" stroke="#a4a4a4" stroke-width="1.17" stroke-linecap="round"/><line x1="211.4" y1="218.0" x2="212.5" y2="221.0" stroke="#a8a8a8" stroke-width="2.6" stroke-linecap="round"/><line x1="211.4" y1="218.0" x2="212.5" y2="221.0" stroke="#ffffff" stroke-width="1.17" stroke-linecap="round"/><line x1="204.0" y1="263.0" x2="217.2" y2="262.2" stroke="#5e5e5e" stroke-width="2.6" stroke-linecap="round"/><line x1="204.0" y1="263.0" x2="217.2" y2="262.2" stroke="#a4a4a4" stroke-width="1.17" stroke-linecap="round"/><line x1="217.2" y1="262.2" x2="219.1" y2="257.9" stroke="#5e5e5e" stroke-width="2.6" stroke-linecap="round"/><line x1="217.2" y1="262.2" x2="219.1" y2="257.9" stroke="#a4a4a4" stroke-width="1.17" stroke-linecap="round"/><line x1="219.1" y1="257.9" x2="221.0" y2="253.7" stroke="#c8c800" stroke-width="2.6" stroke-linecap="round"/><line x1="219.1" y1="257.9" x2="221.0" y2="253.7" stroke="#ffff30" stroke-width="1.17" stroke-linecap="round"/><line x1="221.0" y1="253.7" x2="222.0" y2="249.5" stroke="#a8a8a8" stroke-width="2.4" stroke-linecap="round"/><line x1="221.0" y1="253.7" x2="222.0" y2="249.5" stroke="#ffffff" stroke-width="1.08" stroke-linecap="round"/><line x1="217.2" y1="262.2" x2="218.8" y2="264.9" stroke="#5e5e5e" stroke-width="2.6" stroke-linecap="round"/><line x1="217.2" y1="262.2" x2="218.8" y2="264.9" stroke="#a4a4a4" stroke-width="1.17" stroke-linecap="round"/><line x1="218.8" y1="264.9" x2="220.3" y2="267.5" stroke="#a8a8a8" stroke-width="2.6" stroke-linecap="round"/><line x1="218.8" y1="264.9" x2="220.3" y2="267.5" stroke="#ffffff" stroke-width="1.17" stroke-linecap="round"/><line x1="294.2" y1="70.5" x2="311.3" y2="71.0" stroke="#b80000" stroke-width="3.4" stroke-linecap="round"/><line x1="294.2" y1="70.5" x2="311.3" y2="71.0" stroke="#ff2424" stroke-width="1.53" stroke-linecap="round"/><line x1="294.2" y1="77.0" x2="311.3" y2="77.0" stroke="#b80000" stroke-width="3.4" stroke-linecap="round"/><line x1="294.2" y1="77.0" x2="311.3" y2="77.0" stroke="#ff2424" stroke-width="1.53" stroke-linecap="round"/><line x1="303.5" y1="66.0" x2="303.5" y2="78.3" stroke="#b80000" stroke-width="3.4" stroke-linecap="round"/><line x1="303.5" y1="66.0" x2="303.5" y2="78.3" stroke="#ff2424" stroke-width="1.53" stroke-linecap="round"/><line x1="311.3" y1="86.0" x2="320.6" y2="86.0" stroke="#b80000" stroke-width="3.4" stroke-linecap="round"/><line x1="311.3" y1="86.0" x2="320.6" y2="86.0" stroke="#ff2424" stroke-width="1.53" stroke-linecap="round"/><line x1="311.3" y1="96.5" x2="320.6" y2="96.5" stroke="#b80000" stroke-width="3.4" stroke-linecap="round"/><line x1="311.3" y1="96.5" x2="320.6" y2="96.5" stroke="#ff2424" stroke-width="1.53" stroke-linecap="round"/><line x1="315.0" y1="84.0" x2="315.0" y2="98.0" stroke="#b80000" stroke-width="3.4" stroke-linecap="round"/><line x1="315.0" y1="84.0" x2="315.0" y2="98.0" stroke="#ff2424" stroke-width="1.53" stroke-linecap="round"/><line x1="294.0" y1="102.0" x2="308.0" y2="102.0" stroke="#b80000" stroke-width="3.4" stroke-linecap="round"/><line x1="294.0" y1="102.0" x2="308.0" y2="102.0" stroke="#ff2424" stroke-width="1.53" stroke-linecap="round"/><line x1="294.0" y1="108.5" x2="308.0" y2="108.5" stroke="#b80000" stroke-width="3.4" stroke-linecap="round"/><line x1="294.0" y1="108.5" x2="308.0" y2="108.5" stroke="#ff2424" stroke-width="1.53" stroke-linecap="round"/><line x1="301.0" y1="100.0" x2="301.0" y2="111.0" stroke="#b80000" stroke-width="3.4" stroke-linecap="round"/><line x1="301.0" y1="100.0" x2="301.0" y2="111.0" stroke="#ff2424" stroke-width="1.53" stroke-linecap="round"/><line x1="317.5" y1="78.3" x2="317.5" y2="106.2" stroke="#5fb0b4" stroke-width="3.0" stroke-linecap="round"/><line x1="317.5" y1="78.3" x2="317.5" y2="106.2" stroke="#b8f0f0" stroke-width="1.35" stroke-linecap="round"/><line x1="295.0" y1="74.0" x2="295.0" y2="106.0" stroke="#5fb0b4" stroke-width="3.0" stroke-linecap="round"/><line x1="295.0" y1="74.0" x2="295.0" y2="106.0" stroke="#b8f0f0" stroke-width="1.35" stroke-linecap="round"/><line x1="298.0" y1="89.5" x2="317.5" y2="78.3" stroke="#5fb0b4" stroke-width="4.6" stroke-linecap="round"/><line x1="298.0" y1="89.5" x2="317.5" y2="78.3" stroke="#b8f0f0" stroke-width="2.07" stroke-linecap="round"/><line x1="298.0" y1="89.5" x2="317.5" y2="106.2" stroke="#5fb0b4" stroke-width="4.6" stroke-linecap="round"/><line x1="298.0" y1="89.5" x2="317.5" y2="106.2" stroke="#b8f0f0" stroke-width="2.07" stroke-linecap="round"/><line x1="291.5" y1="89.5" x2="306.0" y2="89.5" stroke="#5fb0b4" stroke-width="4.6" stroke-linecap="round"/><line x1="291.5" y1="89.5" x2="306.0" y2="89.5" stroke="#b8f0f0" stroke-width="2.07" stroke-linecap="round"/><line x1="303.5" y1="65.9" x2="303.5" y2="61.2" stroke="#a8a8a8" stroke-width="2.8" stroke-linecap="round"/><line x1="303.5" y1="65.9" x2="303.5" y2="61.2" stroke="#ffffff" stroke-width="1.26" stroke-linecap="round"/><line x1="320.6" y1="93.0" x2="324.0" y2="93.0" stroke="#a8a8a8" stroke-width="2.4" stroke-linecap="round"/><line x1="320.6" y1="93.0" x2="324.0" y2="93.0" stroke="#ffffff" stroke-width="1.08" stroke-linecap="round"/><line x1="298.0" y1="109.0" x2="298.0" y2="113.0" stroke="#a8a8a8" stroke-width="2.4" stroke-linecap="round"/><line x1="298.0" y1="109.0" x2="298.0" y2="113.0" stroke="#ffffff" stroke-width="1.08" stroke-linecap="round"/><line x1="303.0" y1="86.5" x2="326.5" y2="67.0" stroke="#b80000" stroke-width="4.0" stroke-linecap="round"/><line x1="303.0" y1="86.5" x2="326.5" y2="67.0" stroke="#ff2424" stroke-width="1.80" stroke-linecap="round"/><line x1="303.0" y1="92.5" x2="320.0" y2="114.0" stroke="#b80000" stroke-width="4.0" stroke-linecap="round"/><line x1="303.0" y1="92.5" x2="320.0" y2="114.0" stroke="#ff2424" stroke-width="1.80" stroke-linecap="round"/><circle cx="298.0" cy="89.5" r="3.068" fill="url(#grc)"/><line x1="326.5" y1="67.0" x2="341.1" y2="56.7" stroke="#5e5e5e" stroke-width="3.3" stroke-linecap="round"/><line x1="326.5" y1="67.0" x2="341.1" y2="56.7" stroke="#a4a4a4" stroke-width="1.48" stroke-linecap="round"/><line x1="341.1" y1="56.7" x2="353.2" y2="52.9" stroke="#5e5e5e" stroke-width="3.3" stroke-linecap="round"/><line x1="341.1" y1="56.7" x2="353.2" y2="52.9" stroke="#a4a4a4" stroke-width="1.48" stroke-linecap="round"/><line x1="341.1" y1="56.7" x2="333.5" y2="42.7" stroke="#5e5e5e" stroke-width="3.3" stroke-linecap="round"/><line x1="341.1" y1="56.7" x2="333.5" y2="42.7" stroke="#a4a4a4" stroke-width="1.48" stroke-linecap="round"/><line x1="341.1" y1="56.7" x2="327.1" y2="55.5" stroke="#5e5e5e" stroke-width="3.3" stroke-linecap="round"/><line x1="341.1" y1="56.7" x2="327.1" y2="55.5" stroke="#a4a4a4" stroke-width="1.48" stroke-linecap="round"/><line x1="341.1" y1="56.7" x2="346.2" y2="70.7" stroke="#5e5e5e" stroke-width="3.3" stroke-linecap="round"/><line x1="341.1" y1="56.7" x2="346.2" y2="70.7" stroke="#a4a4a4" stroke-width="1.48" stroke-linecap="round"/><line x1="353.2" y1="52.9" x2="350.6" y2="44.6" stroke="#5e5e5e" stroke-width="3.3" stroke-linecap="round"/><line x1="353.2" y1="52.9" x2="350.6" y2="44.6" stroke="#a4a4a4" stroke-width="1.48" stroke-linecap="round"/><line x1="353.2" y1="52.9" x2="361.5" y2="40.8" stroke="#5e5e5e" stroke-width="3.3" stroke-linecap="round"/><line x1="353.2" y1="52.9" x2="361.5" y2="40.8" stroke="#a4a4a4" stroke-width="1.48" stroke-linecap="round"/><line x1="353.2" y1="52.9" x2="361.4" y2="61.2" stroke="#5e5e5e" stroke-width="3.4" stroke-linecap="round"/><line x1="353.2" y1="52.9" x2="361.4" y2="61.2" stroke="#a4a4a4" stroke-width="1.53" stroke-linecap="round"/><line x1="361.4" y1="61.2" x2="369.7" y2="69.5" stroke="#c8c800" stroke-width="3.4" stroke-linecap="round"/><line x1="361.4" y1="61.2" x2="369.7" y2="69.5" stroke="#ffff30" stroke-width="1.53" stroke-linecap="round"/><line x1="369.7" y1="69.5" x2="377.4" y2="66.9" stroke="#5e5e5e" stroke-width="3.0" stroke-linecap="round"/><line x1="369.7" y1="69.5" x2="377.4" y2="66.9" stroke="#a4a4a4" stroke-width="1.35" stroke-linecap="round"/><circle cx="327.1" cy="66.9" r="3.776" fill="url(#grg)"/><circle cx="333.5" cy="42.7" r="4.601999999999999" fill="url(#grw)"/><circle cx="350.6" cy="44.6" r="4.837999999999999" fill="url(#grw)"/><circle cx="361.5" cy="40.8" r="4.837999999999999" fill="url(#grw)"/><circle cx="327.1" cy="55.5" r="4.837999999999999" fill="url(#grw)"/><circle cx="341.1" cy="56.7" r="4.72" fill="url(#grg)"/><circle cx="353.2" cy="52.9" r="4.248" fill="url(#grg)"/><circle cx="346.2" cy="70.7" r="4.837999999999999" fill="url(#grw)"/><circle cx="377.4" cy="66.9" r="4.837999999999999" fill="url(#grw)"/><line x1="369.7" y1="69.5" x2="365.9" y2="76.0" stroke="#c8c800" stroke-width="4.6" stroke-linecap="round"/><line x1="369.7" y1="69.5" x2="365.9" y2="76.0" stroke="#ffff30" stroke-width="2.07" stroke-linecap="round"/><line x1="365.9" y1="76.0" x2="365.9" y2="82.2" stroke="#c8c800" stroke-width="4.6" stroke-linecap="round"/><line x1="365.9" y1="76.0" x2="365.9" y2="82.2" stroke="#ffff30" stroke-width="2.07" stroke-linecap="round"/><line x1="365.9" y1="82.2" x2="357.0" y2="97.5" stroke="#c000c0" stroke-width="4.6" stroke-linecap="round"/><line x1="365.9" y1="82.2" x2="357.0" y2="97.5" stroke="#ff40ff" stroke-width="2.07" stroke-linecap="round"/><line x1="357.0" y1="97.5" x2="357.0" y2="110.8" stroke="#c000c0" stroke-width="4.6" stroke-linecap="round"/><line x1="357.0" y1="97.5" x2="357.0" y2="110.8" stroke="#ff40ff" stroke-width="2.07" stroke-linecap="round"/><line x1="357.0" y1="110.8" x2="355.5" y2="124.0" stroke="#c8c800" stroke-width="4.6" stroke-linecap="round"/><line x1="357.0" y1="110.8" x2="355.5" y2="124.0" stroke="#ffff30" stroke-width="2.07" stroke-linecap="round"/><circle cx="369.7" cy="69.5" r="4.484" fill="url(#gry)"/><circle cx="355.3" cy="126.0" r="4.484" fill="url(#gry)"/><text x="370.2" y="72" font-size="8" font-weight="bold" fill="#333" text-anchor="middle">S</text><text x="355.8" y="128.6" font-size="8" font-weight="bold" fill="#333" text-anchor="middle">S</text><line x1="355.3" y1="126.0" x2="347.0" y2="135.5" stroke="#5e5e5e" stroke-width="3.3" stroke-linecap="round"/><line x1="355.3" y1="126.0" x2="347.0" y2="135.5" stroke="#a4a4a4" stroke-width="1.48" stroke-linecap="round"/><line x1="355.3" y1="126.0" x2="371.2" y2="130.5" stroke="#5e5e5e" stroke-width="3.0" stroke-linecap="round"/><line x1="355.3" y1="126.0" x2="371.2" y2="130.5" stroke="#a4a4a4" stroke-width="1.35" stroke-linecap="round"/><line x1="317.7" y1="113.9" x2="334.9" y2="123.5" stroke="#5e5e5e" stroke-width="3.3" stroke-linecap="round"/><line x1="317.7" y1="113.9" x2="334.9" y2="123.5" stroke="#a4a4a4" stroke-width="1.48" stroke-linecap="round"/><line x1="334.9" y1="123.5" x2="340.6" y2="136.8" stroke="#5e5e5e" stroke-width="3.3" stroke-linecap="round"/><line x1="334.9" y1="123.5" x2="340.6" y2="136.8" stroke="#a4a4a4" stroke-width="1.48" stroke-linecap="round"/><line x1="334.9" y1="123.5" x2="344.5" y2="112.0" stroke="#5e5e5e" stroke-width="3.3" stroke-linecap="round"/><line x1="334.9" y1="123.5" x2="344.5" y2="112.0" stroke="#a4a4a4" stroke-width="1.48" stroke-linecap="round"/><line x1="329.2" y1="128.5" x2="320.9" y2="117.1" stroke="#5e5e5e" stroke-width="3.3" stroke-linecap="round"/><line x1="329.2" y1="128.5" x2="320.9" y2="117.1" stroke="#a4a4a4" stroke-width="1.48" stroke-linecap="round"/><line x1="329.2" y1="128.5" x2="319.0" y2="139.4" stroke="#5e5e5e" stroke-width="3.3" stroke-linecap="round"/><line x1="329.2" y1="128.5" x2="319.0" y2="139.4" stroke="#a4a4a4" stroke-width="1.48" stroke-linecap="round"/><line x1="340.6" y1="136.8" x2="336.2" y2="145.1" stroke="#5e5e5e" stroke-width="3.3" stroke-linecap="round"/><line x1="340.6" y1="136.8" x2="336.2" y2="145.1" stroke="#a4a4a4" stroke-width="1.48" stroke-linecap="round"/><line x1="340.6" y1="136.8" x2="350.8" y2="147.0" stroke="#5e5e5e" stroke-width="3.3" stroke-linecap="round"/><line x1="340.6" y1="136.8" x2="350.8" y2="147.0" stroke="#a4a4a4" stroke-width="1.48" stroke-linecap="round"/><circle cx="320.9" cy="117.1" r="4.9559999999999995" fill="url(#grw)"/><circle cx="344.5" cy="112.0" r="4.72" fill="url(#grw)"/><circle cx="334.9" cy="123.5" r="5.31" fill="url(#grg)"/><circle cx="329.2" cy="128.5" r="4.72" fill="url(#grk)"/><circle cx="319.0" cy="139.4" r="4.72" fill="url(#grw)"/><circle cx="336.2" cy="145.1" r="4.248" fill="url(#grw)"/><circle cx="350.8" cy="147.0" r="4.72" fill="url(#grw)"/><circle cx="340.6" cy="136.8" r="5.31" fill="url(#grw)"/><circle cx="371.2" cy="130.5" r="4.72" fill="url(#grw)"/><text x="369.5" y="91.1" font-size="10.5" font-weight="bold">2.56</text><text x="353.2" y="99.5" font-size="10" font-weight="bold">Hg</text><text x="361.1" y="117.4" font-size="10.5" font-weight="bold">2.56</text><line x1="312.8" y1="230.7" x2="312.8" y2="249.3" stroke="#b80000" stroke-width="3.6" stroke-linecap="round"/><line x1="312.8" y1="230.7" x2="312.8" y2="249.3" stroke="#ff2424" stroke-width="1.62" stroke-linecap="round"/><line x1="319.4" y1="236.2" x2="317.2" y2="246.0" stroke="#5fb0b4" stroke-width="3.6" stroke-linecap="round"/><line x1="319.4" y1="236.2" x2="317.2" y2="246.0" stroke="#b8f0f0" stroke-width="1.62" stroke-linecap="round"/><line x1="308.0" y1="244.0" x2="317.2" y2="247.6" stroke="#5fb0b4" stroke-width="3.6" stroke-linecap="round"/><line x1="308.0" y1="244.0" x2="317.2" y2="247.6" stroke="#b8f0f0" stroke-width="1.62" stroke-linecap="round"/><line x1="308.0" y1="244.0" x2="310.6" y2="257.0" stroke="#5fb0b4" stroke-width="3.6" stroke-linecap="round"/><line x1="308.0" y1="244.0" x2="310.6" y2="257.0" stroke="#b8f0f0" stroke-width="1.62" stroke-linecap="round"/><line x1="308.0" y1="244.0" x2="320.5" y2="236.5" stroke="#5fb0b4" stroke-width="3.6" stroke-linecap="round"/><line x1="308.0" y1="244.0" x2="320.5" y2="236.5" stroke="#b8f0f0" stroke-width="1.62" stroke-linecap="round"/><line x1="310.6" y1="255.0" x2="313.0" y2="262.0" stroke="#5fb0b4" stroke-width="3.6" stroke-linecap="round"/><line x1="310.6" y1="255.0" x2="313.0" y2="262.0" stroke="#b8f0f0" stroke-width="1.62" stroke-linecap="round"/><line x1="308.5" y1="231.8" x2="319.4" y2="236.2" stroke="#b80000" stroke-width="3.8" stroke-linecap="round"/><line x1="308.5" y1="231.8" x2="319.4" y2="236.2" stroke="#ff2424" stroke-width="1.71" stroke-linecap="round"/><line x1="319.4" y1="236.2" x2="326.4" y2="237.0" stroke="#5fb0b4" stroke-width="3.8" stroke-linecap="round"/><line x1="319.4" y1="236.2" x2="326.4" y2="237.0" stroke="#b8f0f0" stroke-width="1.71" stroke-linecap="round"/><line x1="326.4" y1="237.0" x2="333.5" y2="237.8" stroke="#b80000" stroke-width="3.8" stroke-linecap="round"/><line x1="326.4" y1="237.0" x2="333.5" y2="237.8" stroke="#ff2424" stroke-width="1.71" stroke-linecap="round"/><line x1="317.2" y1="244.9" x2="332.4" y2="242.7" stroke="#b80000" stroke-width="4.0" stroke-linecap="round"/><line x1="317.2" y1="244.9" x2="332.4" y2="242.7" stroke="#ff2424" stroke-width="1.80" stroke-linecap="round"/><line x1="306.0" y1="236.0" x2="312.0" y2="236.0" stroke="#b80000" stroke-width="3.4" stroke-linecap="round"/><line x1="306.0" y1="236.0" x2="312.0" y2="236.0" stroke="#ff2424" stroke-width="1.53" stroke-linecap="round"/><line x1="316.0" y1="230.0" x2="318.5" y2="225.5" stroke="#a8a8a8" stroke-width="3.0" stroke-linecap="round"/><line x1="316.0" y1="230.0" x2="318.5" y2="225.5" stroke="#ffffff" stroke-width="1.35" stroke-linecap="round"/><circle cx="334.6" cy="238.3" r="3.068" fill="url(#grr)"/><line x1="310.6" y1="255.0" x2="313.4" y2="263.2" stroke="#5fb0b4" stroke-width="4.0" stroke-linecap="round"/><line x1="310.6" y1="255.0" x2="313.4" y2="263.2" stroke="#b8f0f0" stroke-width="1.80" stroke-linecap="round"/><line x1="313.4" y1="263.2" x2="316.1" y2="271.4" stroke="#b80000" stroke-width="4.0" stroke-linecap="round"/><line x1="313.4" y1="263.2" x2="316.1" y2="271.4" stroke="#ff2424" stroke-width="1.80" stroke-linecap="round"/><line x1="316.6" y1="271.4" x2="324.8" y2="284.4" stroke="#5e5e5e" stroke-width="3.4" stroke-linecap="round"/><line x1="316.6" y1="271.4" x2="324.8" y2="284.4" stroke="#a4a4a4" stroke-width="1.53" stroke-linecap="round"/><line x1="335.7" y1="239.4" x2="346.6" y2="238.4" stroke="#5e5e5e" stroke-width="3.3" stroke-linecap="round"/><line x1="335.7" y1="239.4" x2="346.6" y2="238.4" stroke="#a4a4a4" stroke-width="1.48" stroke-linecap="round"/><line x1="346.6" y1="238.4" x2="354.3" y2="237.3" stroke="#5e5e5e" stroke-width="3.3" stroke-linecap="round"/><line x1="346.6" y1="238.4" x2="354.3" y2="237.3" stroke="#a4a4a4" stroke-width="1.48" stroke-linecap="round"/><line x1="351.0" y1="241.6" x2="346.6" y2="229.6" stroke="#5e5e5e" stroke-width="3.3" stroke-linecap="round"/><line x1="351.0" y1="241.6" x2="346.6" y2="229.6" stroke="#a4a4a4" stroke-width="1.48" stroke-linecap="round"/><line x1="351.0" y1="241.6" x2="343.4" y2="246.5" stroke="#5e5e5e" stroke-width="3.3" stroke-linecap="round"/><line x1="351.0" y1="241.6" x2="343.4" y2="246.5" stroke="#a4a4a4" stroke-width="1.48" stroke-linecap="round"/><line x1="351.0" y1="241.6" x2="351.0" y2="256.9" stroke="#5e5e5e" stroke-width="3.3" stroke-linecap="round"/><line x1="351.0" y1="241.6" x2="351.0" y2="256.9" stroke="#a4a4a4" stroke-width="1.48" stroke-linecap="round"/><line x1="351.0" y1="241.6" x2="360.8" y2="244.9" stroke="#5e5e5e" stroke-width="3.3" stroke-linecap="round"/><line x1="351.0" y1="241.6" x2="360.8" y2="244.9" stroke="#a4a4a4" stroke-width="1.48" stroke-linecap="round"/><line x1="354.3" y1="237.3" x2="363.2" y2="235.8" stroke="#5e5e5e" stroke-width="3.2" stroke-linecap="round"/><line x1="354.3" y1="237.3" x2="363.2" y2="235.8" stroke="#a4a4a4" stroke-width="1.44" stroke-linecap="round"/><line x1="363.2" y1="235.8" x2="372.2" y2="234.3" stroke="#c8c800" stroke-width="3.2" stroke-linecap="round"/><line x1="363.2" y1="235.8" x2="372.2" y2="234.3" stroke="#ffff30" stroke-width="1.44" stroke-linecap="round"/><circle cx="346.6" cy="229.6" r="4.72" fill="url(#grw)"/><circle cx="351.0" cy="241.6" r="5.664" fill="url(#grk)"/><circle cx="354.3" cy="237.3" r="4.012" fill="url(#grg)"/><circle cx="343.4" cy="246.5" r="5.192" fill="url(#grw)"/><circle cx="351.0" cy="256.9" r="4.72" fill="url(#grw)"/><circle cx="360.8" cy="244.9" r="4.72" fill="url(#grw)"/><circle cx="349.9" cy="257.2" r="4.484" fill="url(#grw)"/><line x1="366.7" y1="193.2" x2="366.7" y2="201.7" stroke="#b80000" stroke-width="3.2" stroke-linecap="round"/><line x1="366.7" y1="193.2" x2="366.7" y2="201.7" stroke="#ff2424" stroke-width="1.44" stroke-linecap="round"/><line x1="366.7" y1="201.7" x2="369.1" y2="220.4" stroke="#c000c0" stroke-width="3.4" stroke-linecap="round"/><line x1="366.7" y1="201.7" x2="369.1" y2="220.4" stroke="#ff40ff" stroke-width="1.53" stroke-linecap="round"/><line x1="369.1" y1="220.4" x2="370.6" y2="231.2" stroke="#c8c800" stroke-width="3.4" stroke-linecap="round"/><line x1="369.1" y1="220.4" x2="370.6" y2="231.2" stroke="#ffff30" stroke-width="1.53" stroke-linecap="round"/><circle cx="362.9" cy="190.9" r="4.248" fill="url(#grw)"/><circle cx="366.7" cy="192.0" r="2.36" fill="url(#grr)"/><circle cx="372.2" cy="234.3" r="3.8939999999999997" fill="url(#gry)"/><text x="363" y="218.8" font-size="10" font-weight="bold">Hg</text><text x="369.6" y="227.6" font-size="10.5" font-weight="bold">2.52</text><text x="372.6" y="237.4" font-size="8" font-weight="bold" fill="#333" text-anchor="middle">S</text><line x1="335.7" y1="284.4" x2="340.9" y2="281.1" stroke="#5e5e5e" stroke-width="3.0" stroke-linecap="round"/><line x1="335.7" y1="284.4" x2="340.9" y2="281.1" stroke="#a4a4a4" stroke-width="1.35" stroke-linecap="round"/><line x1="340.9" y1="281.1" x2="346.1" y2="277.9" stroke="#c8c800" stroke-width="3.0" stroke-linecap="round"/><line x1="340.9" y1="281.1" x2="346.1" y2="277.9" stroke="#ffff30" stroke-width="1.35" stroke-linecap="round"/><line x1="346.1" y1="277.9" x2="351.0" y2="281.2" stroke="#5e5e5e" stroke-width="2.8" stroke-linecap="round"/><line x1="346.1" y1="277.9" x2="351.0" y2="281.2" stroke="#a4a4a4" stroke-width="1.26" stroke-linecap="round"/><line x1="328.0" y1="286.6" x2="333.5" y2="279.5" stroke="#5e5e5e" stroke-width="3.0" stroke-linecap="round"/><line x1="328.0" y1="286.6" x2="333.5" y2="279.5" stroke="#a4a4a4" stroke-width="1.35" stroke-linecap="round"/><line x1="328.0" y1="286.6" x2="337.9" y2="296.4" stroke="#5e5e5e" stroke-width="3.0" stroke-linecap="round"/><line x1="328.0" y1="286.6" x2="337.9" y2="296.4" stroke="#a4a4a4" stroke-width="1.35" stroke-linecap="round"/><line x1="328.0" y1="286.6" x2="330.3" y2="293.2" stroke="#5e5e5e" stroke-width="3.0" stroke-linecap="round"/><line x1="328.0" y1="286.6" x2="330.3" y2="293.2" stroke="#a4a4a4" stroke-width="1.35" stroke-linecap="round"/><line x1="328.0" y1="286.6" x2="335.7" y2="284.4" stroke="#5e5e5e" stroke-width="3.0" stroke-linecap="round"/><line x1="328.0" y1="286.6" x2="335.7" y2="284.4" stroke="#a4a4a4" stroke-width="1.35" stroke-linecap="round"/><circle cx="328.0" cy="286.6" r="4.248" fill="url(#grg)"/><circle cx="330.3" cy="293.2" r="3.8939999999999997" fill="url(#grw)"/><circle cx="333.5" cy="279.5" r="4.248" fill="url(#grw)"/><circle cx="337.9" cy="296.4" r="4.484" fill="url(#grw)"/><circle cx="346.1" cy="277.9" r="4.012" fill="url(#gry)"/><circle cx="351.0" cy="281.2" r="4.012" fill="url(#grw)"/><text x="346.3" y="280.6" font-size="7" font-weight="bold" fill="#333" text-anchor="middle">S</text><ellipse cx="224.5" cy="90.7" rx="27.8" ry="34.8" fill="none" stroke="#1414f4" stroke-width="2.8" stroke-dasharray="5.6 3.2"/><line x1="252" y1="82.6" x2="288" y2="85.3" stroke="#1010f0" stroke-width="2.2" stroke-dasharray="5 2.8"/><ellipse cx="209" cy="216" rx="27.4" ry="32.4" fill="none" stroke="#1414f4" stroke-width="2.8" stroke-dasharray="5.6 3.2"/><path d="M240.5,221.3 Q270,220.5 298.6,229.1" fill="none" stroke="#1010f0" stroke-width="2.2" stroke-dasharray="5 2.8"/><ellipse cx="340.5" cy="91.2" rx="46.2" ry="64" fill="none" stroke="#444" stroke-width="1" stroke-dasharray="1.6 1.1"/><ellipse cx="351.5" cy="241.6" rx="43.8" ry="62.2" fill="none" stroke="#444" stroke-width="1" stroke-dasharray="1.6 1.1"/>
<g><clipPath id="c1"><rect x="89.30" y="336.20" width="23.50" height="20.60"/></clipPath><rect x="89.30" y="336.20" width="23.50" height="20.60" fill="#ff00ff"/><path clip-path="url(#c1)" d="M64.60 357.80l22.60 -22.60M68.00 357.80l22.60 -22.60M71.40 357.80l22.60 -22.60M74.80 357.80l22.60 -22.60M78.20 357.80l22.60 -22.60M81.60 357.80l22.60 -22.60M85.00 357.80l22.60 -22.60M88.40 357.80l22.60 -22.60M91.80 357.80l22.60 -22.60M95.20 357.80l22.60 -22.60M98.60 357.80l22.60 -22.60M102.00 357.80l22.60 -22.60M105.40 357.80l22.60 -22.60M108.80 357.80l22.60 -22.60M112.20 357.80l22.60 -22.60" stroke="#1a001a" stroke-width="1.0" fill="none"/><rect x="89.90" y="336.80" width="22.30" height="20.00" fill="none" stroke="#000000" stroke-width="1.2"/><clipPath id="c2"><rect x="112.80" y="341.35" width="23.50" height="15.45"/></clipPath><rect x="112.80" y="341.35" width="23.50" height="15.45" fill="#ff00ff"/><path clip-path="url(#c2)" d="M91.00 357.80l17.45 -17.45M91.00 340.35l17.45 17.45M97.50 357.80l17.45 -17.45M97.50 340.35l17.45 17.45M104.00 357.80l17.45 -17.45M104.00 340.35l17.45 17.45M110.50 357.80l17.45 -17.45M110.50 340.35l17.45 17.45M117.00 357.80l17.45 -17.45M117.00 340.35l17.45 17.45M123.50 357.80l17.45 -17.45M123.50 340.35l17.45 17.45M130.00 357.80l17.45 -17.45M130.00 340.35l17.45 17.45M136.50 357.80l17.45 -17.45M136.50 340.35l17.45 17.45M143.00 357.80l17.45 -17.45M143.00 340.35l17.45 17.45M149.50 357.80l17.45 -17.45M149.50 340.35l17.45 17.45" stroke="#1a001a" stroke-width="1.1" fill="none"/><rect x="113.40" y="341.95" width="22.30" height="14.85" fill="none" stroke="#000000" stroke-width="1.2"/><clipPath id="c3"><rect x="147.01" y="347.53" width="23.50" height="9.27"/></clipPath><rect x="147.01" y="347.53" width="23.50" height="9.27" fill="#ffff00"/><path clip-path="url(#c3)" d="M132.60 357.80l11.27 -11.27M136.00 357.80l11.27 -11.27M139.40 357.80l11.27 -11.27M142.80 357.80l11.27 -11.27M146.20 357.80l11.27 -11.27M149.60 357.80l11.27 -11.27M153.00 357.80l11.27 -11.27M156.40 357.80l11.27 -11.27M159.80 357.80l11.27 -11.27M163.20 357.80l11.27 -11.27M166.60 357.80l11.27 -11.27M170.00 357.80l11.27 -11.27" stroke="#ff0000" stroke-width="1.0" fill="none"/><rect x="147.51" y="348.03" width="22.50" height="8.77" fill="none" stroke="#ff0000" stroke-width="1.0"/><clipPath id="c4"><rect x="170.51" y="345.81" width="23.50" height="10.99"/></clipPath><rect x="170.51" y="345.81" width="23.50" height="10.99" fill="#ffff00"/><path clip-path="url(#c4)" d="M156.00 357.80l12.99 -12.99M156.00 344.81l12.99 12.99M162.50 357.80l12.99 -12.99M162.50 344.81l12.99 12.99M169.00 357.80l12.99 -12.99M169.00 344.81l12.99 12.99M175.50 357.80l12.99 -12.99M175.50 344.81l12.99 12.99M182.00 357.80l12.99 -12.99M182.00 344.81l12.99 12.99M188.50 357.80l12.99 -12.99M188.50 344.81l12.99 12.99M195.00 357.80l12.99 -12.99M195.00 344.81l12.99 12.99M201.50 357.80l12.99 -12.99M201.50 344.81l12.99 12.99" stroke="#ff0000" stroke-width="1.1" fill="none"/><rect x="171.01" y="346.31" width="22.50" height="10.49" fill="none" stroke="#ff0000" stroke-width="1.0"/><clipPath id="c5"><rect x="204.72" y="347.87" width="23.50" height="8.93"/></clipPath><rect x="204.72" y="347.87" width="23.50" height="8.93" fill="#7a6800"/><path clip-path="url(#c5)" d="M190.40 357.80l10.93 -10.93M193.80 357.80l10.93 -10.93M197.20 357.80l10.93 -10.93M200.60 357.80l10.93 -10.93M204.00 357.80l10.93 -10.93M207.40 357.80l10.93 -10.93M210.80 357.80l10.93 -10.93M214.20 357.80l10.93 -10.93M217.60 357.80l10.93 -10.93M221.00 357.80l10.93 -10.93M224.40 357.80l10.93 -10.93M227.80 357.80l10.93 -10.93" stroke="#33ff22" stroke-width="1.0" fill="none"/><rect x="205.22" y="348.37" width="22.50" height="8.43" fill="none" stroke="#33ff22" stroke-width="1.0"/><clipPath id="c6"><rect x="228.22" y="347.18" width="23.50" height="9.62"/></clipPath><rect x="228.22" y="347.18" width="23.50" height="9.62" fill="#7a6800"/><path clip-path="url(#c6)" d="M214.50 357.80l11.62 -11.62M214.50 346.18l11.62 11.62M221.00 357.80l11.62 -11.62M221.00 346.18l11.62 11.62M227.50 357.80l11.62 -11.62M227.50 346.18l11.62 11.62M234.00 357.80l11.62 -11.62M234.00 346.18l11.62 11.62M240.50 357.80l11.62 -11.62M240.50 346.18l11.62 11.62M247.00 357.80l11.62 -11.62M247.00 346.18l11.62 11.62M253.50 357.80l11.62 -11.62M253.50 346.18l11.62 11.62M260.00 357.80l11.62 -11.62M260.00 346.18l11.62 11.62" stroke="#33ff22" stroke-width="1.1" fill="none"/><rect x="228.72" y="347.68" width="22.50" height="9.12" fill="none" stroke="#33ff22" stroke-width="1.0"/><clipPath id="c7"><rect x="262.43" y="319.03" width="23.50" height="37.77"/></clipPath><rect x="262.43" y="319.03" width="23.50" height="37.77" fill="#000090"/><path clip-path="url(#c7)" d="M221.00 357.80l39.77 -39.77M224.40 357.80l39.77 -39.77M227.80 357.80l39.77 -39.77M231.20 357.80l39.77 -39.77M234.60 357.80l39.77 -39.77M238.00 357.80l39.77 -39.77M241.40 357.80l39.77 -39.77M244.80 357.80l39.77 -39.77M248.20 357.80l39.77 -39.77M251.60 357.80l39.77 -39.77M255.00 357.80l39.77 -39.77M258.40 357.80l39.77 -39.77M261.80 357.80l39.77 -39.77M265.20 357.80l39.77 -39.77M268.60 357.80l39.77 -39.77M272.00 357.80l39.77 -39.77M275.40 357.80l39.77 -39.77M278.80 357.80l39.77 -39.77M282.20 357.80l39.77 -39.77M285.60 357.80l39.77 -39.77" stroke="#0000ff" stroke-width="1.0" fill="none"/><rect x="262.93" y="319.53" width="22.50" height="37.27" fill="none" stroke="#0000ff" stroke-width="1.0"/><clipPath id="c8"><rect x="285.93" y="314.91" width="23.50" height="41.89"/></clipPath><rect x="285.93" y="314.91" width="23.50" height="41.89" fill="#000090"/><path clip-path="url(#c8)" d="M240.50 357.80l43.89 -43.89M240.50 313.91l43.89 43.89M247.00 357.80l43.89 -43.89M247.00 313.91l43.89 43.89M253.50 357.80l43.89 -43.89M253.50 313.91l43.89 43.89M260.00 357.80l43.89 -43.89M260.00 313.91l43.89 43.89M266.50 357.80l43.89 -43.89M266.50 313.91l43.89 43.89M273.00 357.80l43.89 -43.89M273.00 313.91l43.89 43.89M279.50 357.80l43.89 -43.89M279.50 313.91l43.89 43.89M286.00 357.80l43.89 -43.89M286.00 313.91l43.89 43.89M292.50 357.80l43.89 -43.89M292.50 313.91l43.89 43.89M299.00 357.80l43.89 -43.89M299.00 313.91l43.89 43.89M305.50 357.80l43.89 -43.89M305.50 313.91l43.89 43.89M312.00 357.80l43.89 -43.89M312.00 313.91l43.89 43.89M318.50 357.80l43.89 -43.89M318.50 313.91l43.89 43.89M325.00 357.80l43.89 -43.89M325.00 313.91l43.89 43.89M331.50 357.80l43.89 -43.89M331.50 313.91l43.89 43.89M338.00 357.80l43.89 -43.89M338.00 313.91l43.89 43.89M344.50 357.80l43.89 -43.89M344.50 313.91l43.89 43.89M351.00 357.80l43.89 -43.89M351.00 313.91l43.89 43.89" stroke="#0000ff" stroke-width="1.1" fill="none"/><rect x="286.43" y="315.41" width="22.50" height="41.39" fill="none" stroke="#0000ff" stroke-width="1.0"/><clipPath id="c9"><rect x="320.14" y="351.99" width="23.50" height="4.81"/></clipPath><rect x="320.14" y="351.99" width="23.50" height="4.81" fill="#800080"/><path clip-path="url(#c9)" d="M312.80 357.80l6.81 -6.81M316.20 357.80l6.81 -6.81M319.60 357.80l6.81 -6.81M323.00 357.80l6.81 -6.81M326.40 357.80l6.81 -6.81M329.80 357.80l6.81 -6.81M333.20 357.80l6.81 -6.81M336.60 357.80l6.81 -6.81M340.00 357.80l6.81 -6.81M343.40 357.80l6.81 -6.81" stroke="#66ffff" stroke-width="1.0" fill="none"/><rect x="320.64" y="352.49" width="22.50" height="4.31" fill="none" stroke="#66ffff" stroke-width="1.0"/><clipPath id="c10"><rect x="343.64" y="353.37" width="23.50" height="3.43"/></clipPath><rect x="343.64" y="353.37" width="23.50" height="3.43" fill="#800080"/><path clip-path="url(#c10)" d="M338.00 357.80l5.43 -5.43M338.00 352.37l5.43 5.43M344.50 357.80l5.43 -5.43M344.50 352.37l5.43 5.43M351.00 357.80l5.43 -5.43M351.00 352.37l5.43 5.43M357.50 357.80l5.43 -5.43M357.50 352.37l5.43 5.43M364.00 357.80l5.43 -5.43M364.00 352.37l5.43 5.43M370.50 357.80l5.43 -5.43M370.50 352.37l5.43 5.43" stroke="#66ffff" stroke-width="1.1" fill="none"/><rect x="344.14" y="353.87" width="22.50" height="2.93" fill="none" stroke="#66ffff" stroke-width="1.0"/><clipPath id="c11"><rect x="377.85" y="350.96" width="23.50" height="5.84"/></clipPath><rect x="377.85" y="350.96" width="23.50" height="5.84" fill="#800000"/><path clip-path="url(#c11)" d="M367.20 357.80l7.84 -7.84M370.60 357.80l7.84 -7.84M374.00 357.80l7.84 -7.84M377.40 357.80l7.84 -7.84M380.80 357.80l7.84 -7.84M384.20 357.80l7.84 -7.84M387.60 357.80l7.84 -7.84M391.00 357.80l7.84 -7.84M394.40 357.80l7.84 -7.84M397.80 357.80l7.84 -7.84M401.20 357.80l7.84 -7.84" stroke="#ff00ff" stroke-width="1.0" fill="none"/><rect x="378.35" y="351.46" width="22.50" height="5.34" fill="none" stroke="#ff00ff" stroke-width="1.0"/><clipPath id="c12"><rect x="401.35" y="351.31" width="23.50" height="5.49"/></clipPath><rect x="401.35" y="351.31" width="23.50" height="5.49" fill="#800000"/><path clip-path="url(#c12)" d="M390.00 357.80l7.49 -7.49M390.00 350.31l7.49 7.49M396.50 357.80l7.49 -7.49M396.50 350.31l7.49 7.49M403.00 357.80l7.49 -7.49M403.00 350.31l7.49 7.49M409.50 357.80l7.49 -7.49M409.50 350.31l7.49 7.49M416.00 357.80l7.49 -7.49M416.00 350.31l7.49 7.49M422.50 357.80l7.49 -7.49M422.50 350.31l7.49 7.49M429.00 357.80l7.49 -7.49M429.00 350.31l7.49 7.49" stroke="#ff00ff" stroke-width="1.1" fill="none"/><rect x="401.85" y="351.81" width="22.50" height="4.99" fill="none" stroke="#ff00ff" stroke-width="1.0"/><clipPath id="c13"><rect x="435.56" y="260.65" width="23.50" height="96.15"/></clipPath><rect x="435.56" y="260.65" width="23.50" height="96.15" fill="#006600"/><path clip-path="url(#c13)" d="M336.60 357.80l98.15 -98.15M340.00 357.80l98.15 -98.15M343.40 357.80l98.15 -98.15M346.80 357.80l98.15 -98.15M350.20 357.80l98.15 -98.15M353.60 357.80l98.15 -98.15M357.00 357.80l98.15 -98.15M360.40 357.80l98.15 -98.15M363.80 357.80l98.15 -98.15M367.20 357.80l98.15 -98.15M370.60 357.80l98.15 -98.15M374.00 357.80l98.15 -98.15M377.40 357.80l98.15 -98.15M380.80 357.80l98.15 -98.15M384.20 357.80l98.15 -98.15M387.60 357.80l98.15 -98.15M391.00 357.80l98.15 -98.15M394.40 357.80l98.15 -98.15M397.80 357.80l98.15 -98.15M401.20 357.80l98.15 -98.15M404.60 357.80l98.15 -98.15M408.00 357.80l98.15 -98.15M411.40 357.80l98.15 -98.15M414.80 357.80l98.15 -98.15M418.20 357.80l98.15 -98.15M421.60 357.80l98.15 -98.15M425.00 357.80l98.15 -98.15M428.40 357.80l98.15 -98.15M431.80 357.80l98.15 -98.15M435.20 357.80l98.15 -98.15M438.60 357.80l98.15 -98.15M442.00 357.80l98.15 -98.15M445.40 357.80l98.15 -98.15M448.80 357.80l98.15 -98.15M452.20 357.80l98.15 -98.15M455.60 357.80l98.15 -98.15M459.00 357.80l98.15 -98.15" stroke="#ffff00" stroke-width="1.0" fill="none"/><rect x="436.06" y="261.15" width="22.50" height="95.65" fill="none" stroke="#ffff00" stroke-width="1.0"/><clipPath id="c14"><rect x="459.06" y="257.21" width="23.50" height="99.59"/></clipPath><rect x="459.06" y="257.21" width="23.50" height="99.59" fill="#006600"/><path clip-path="url(#c14)" d="M351.00 357.80l101.59 -101.59M351.00 256.21l101.59 101.59M357.50 357.80l101.59 -101.59M357.50 256.21l101.59 101.59M364.00 357.80l101.59 -101.59M364.00 256.21l101.59 101.59M370.50 357.80l101.59 -101.59M370.50 256.21l101.59 101.59M377.00 357.80l101.59 -101.59M377.00 256.21l101.59 101.59M383.50 357.80l101.59 -101.59M383.50 256.21l101.59 101.59M390.00 357.80l101.59 -101.59M390.00 256.21l101.59 101.59M396.50 357.80l101.59 -101.59M396.50 256.21l101.59 101.59M403.00 357.80l101.59 -101.59M403.00 256.21l101.59 101.59M409.50 357.80l101.59 -101.59M409.50 256.21l101.59 101.59M416.00 357.80l101.59 -101.59M416.00 256.21l101.59 101.59M422.50 357.80l101.59 -101.59M422.50 256.21l101.59 101.59M429.00 357.80l101.59 -101.59M429.00 256.21l101.59 101.59M435.50 357.80l101.59 -101.59M435.50 256.21l101.59 101.59M442.00 357.80l101.59 -101.59M442.00 256.21l101.59 101.59M448.50 357.80l101.59 -101.59M448.50 256.21l101.59 101.59M455.00 357.80l101.59 -101.59M455.00 256.21l101.59 101.59M461.50 357.80l101.59 -101.59M461.50 256.21l101.59 101.59M468.00 357.80l101.59 -101.59M468.00 256.21l101.59 101.59M474.50 357.80l101.59 -101.59M474.50 256.21l101.59 101.59M481.00 357.80l101.59 -101.59M481.00 256.21l101.59 101.59M487.50 357.80l101.59 -101.59M487.50 256.21l101.59 101.59M494.00 357.80l101.59 -101.59M494.00 256.21l101.59 101.59M500.50 357.80l101.59 -101.59M500.50 256.21l101.59 101.59M507.00 357.80l101.59 -101.59M507.00 256.21l101.59 101.59M513.50 357.80l101.59 -101.59M513.50 256.21l101.59 101.59M520.00 357.80l101.59 -101.59M520.00 256.21l101.59 101.59M526.50 357.80l101.59 -101.59M526.50 256.21l101.59 101.59M533.00 357.80l101.59 -101.59M533.00 256.21l101.59 101.59M539.50 357.80l101.59 -101.59M539.50 256.21l101.59 101.59M546.00 357.80l101.59 -101.59M546.00 256.21l101.59 101.59M552.50 357.80l101.59 -101.59M552.50 256.21l101.59 101.59M559.00 357.80l101.59 -101.59M559.00 256.21l101.59 101.59M565.50 357.80l101.59 -101.59M565.50 256.21l101.59 101.59M572.00 357.80l101.59 -101.59M572.00 256.21l101.59 101.59M578.50 357.80l101.59 -101.59M578.50 256.21l101.59 101.59" stroke="#ffff00" stroke-width="1.1" fill="none"/><rect x="459.56" y="257.71" width="22.50" height="99.09" fill="none" stroke="#ffff00" stroke-width="1.0"/><clipPath id="c15"><rect x="493.27" y="219.10" width="23.50" height="137.70"/></clipPath><rect x="493.27" y="219.10" width="23.50" height="137.70" fill="#007a7a"/><path clip-path="url(#c15)" d="M350.20 357.80l139.70 -139.70M353.60 357.80l139.70 -139.70M357.00 357.80l139.70 -139.70M360.40 357.80l139.70 -139.70M363.80 357.80l139.70 -139.70M367.20 357.80l139.70 -139.70M370.60 357.80l139.70 -139.70M374.00 357.80l139.70 -139.70M377.40 357.80l139.70 -139.70M380.80 357.80l139.70 -139.70M384.20 357.80l139.70 -139.70M387.60 357.80l139.70 -139.70M391.00 357.80l139.70 -139.70M394.40 357.80l139.70 -139.70M397.80 357.80l139.70 -139.70M401.20 357.80l139.70 -139.70M404.60 357.80l139.70 -139.70M408.00 357.80l139.70 -139.70M411.40 357.80l139.70 -139.70M414.80 357.80l139.70 -139.70M418.20 357.80l139.70 -139.70M421.60 357.80l139.70 -139.70M425.00 357.80l139.70 -139.70M428.40 357.80l139.70 -139.70M431.80 357.80l139.70 -139.70M435.20 357.80l139.70 -139.70M438.60 357.80l139.70 -139.70M442.00 357.80l139.70 -139.70M445.40 357.80l139.70 -139.70M448.80 357.80l139.70 -139.70M452.20 357.80l139.70 -139.70M455.60 357.80l139.70 -139.70M459.00 357.80l139.70 -139.70M462.40 357.80l139.70 -139.70M465.80 357.80l139.70 -139.70M469.20 357.80l139.70 -139.70M472.60 357.80l139.70 -139.70M476.00 357.80l139.70 -139.70M479.40 357.80l139.70 -139.70M482.80 357.80l139.70 -139.70M486.20 357.80l139.70 -139.70M489.60 357.80l139.70 -139.70M493.00 357.80l139.70 -139.70M496.40 357.80l139.70 -139.70M499.80 357.80l139.70 -139.70M503.20 357.80l139.70 -139.70M506.60 357.80l139.70 -139.70M510.00 357.80l139.70 -139.70M513.40 357.80l139.70 -139.70M516.80 357.80l139.70 -139.70" stroke="#808000" stroke-width="1.0" fill="none"/><rect x="493.77" y="219.60" width="22.50" height="137.20" fill="none" stroke="#808000" stroke-width="1.0"/><clipPath id="c16"><rect x="516.77" y="215.66" width="23.50" height="141.14"/></clipPath><rect x="516.77" y="215.66" width="23.50" height="141.14" fill="#007a7a"/><path clip-path="url(#c16)" d="M370.50 357.80l143.14 -143.14M370.50 214.66l143.14 143.14M377.00 357.80l143.14 -143.14M377.00 214.66l143.14 143.14M383.50 357.80l143.14 -143.14M383.50 214.66l143.14 143.14M390.00 357.80l143.14 -143.14M390.00 214.66l143.14 143.14M396.50 357.80l143.14 -143.14M396.50 214.66l143.14 143.14M403.00 357.80l143.14 -143.14M403.00 214.66l143.14 143.14M409.50 357.80l143.14 -143.14M409.50 214.66l143.14 143.14M416.00 357.80l143.14 -143.14M416.00 214.66l143.14 143.14M422.50 357.80l143.14 -143.14M422.50 214.66l143.14 143.14M429.00 357.80l143.14 -143.14M429.00 214.66l143.14 143.14M435.50 357.80l143.14 -143.14M435.50 214.66l143.14 143.14M442.00 357.80l143.14 -143.14M442.00 214.66l143.14 143.14M448.50 357.80l143.14 -143.14M448.50 214.66l143.14 143.14M455.00 357.80l143.14 -143.14M455.00 214.66l143.14 143.14M461.50 357.80l143.14 -143.14M461.50 214.66l143.14 143.14M468.00 357.80l143.14 -143.14M468.00 214.66l143.14 143.14M474.50 357.80l143.14 -143.14M474.50 214.66l143.14 143.14M481.00 357.80l143.14 -143.14M481.00 214.66l143.14 143.14M487.50 357.80l143.14 -143.14M487.50 214.66l143.14 143.14M494.00 357.80l143.14 -143.14M494.00 214.66l143.14 143.14M500.50 357.80l143.14 -143.14M500.50 214.66l143.14 143.14M507.00 357.80l143.14 -143.14M507.00 214.66l143.14 143.14M513.50 357.80l143.14 -143.14M513.50 214.66l143.14 143.14M520.00 357.80l143.14 -143.14M520.00 214.66l143.14 143.14M526.50 357.80l143.14 -143.14M526.50 214.66l143.14 143.14M533.00 357.80l143.14 -143.14M533.00 214.66l143.14 143.14M539.50 357.80l143.14 -143.14M539.50 214.66l143.14 143.14M546.00 357.80l143.14 -143.14M546.00 214.66l143.14 143.14M552.50 357.80l143.14 -143.14M552.50 214.66l143.14 143.14M559.00 357.80l143.14 -143.14M559.00 214.66l143.14 143.14M565.50 357.80l143.14 -143.14M565.50 214.66l143.14 143.14M572.00 357.80l143.14 -143.14M572.00 214.66l143.14 143.14M578.50 357.80l143.14 -143.14M578.50 214.66l143.14 143.14M585.00 357.80l143.14 -143.14M585.00 214.66l143.14 143.14M591.50 357.80l143.14 -143.14M591.50 214.66l143.14 143.14M598.00 357.80l143.14 -143.14M598.00 214.66l143.14 143.14M604.50 357.80l143.14 -143.14M604.50 214.66l143.14 143.14M611.00 357.80l143.14 -143.14M611.00 214.66l143.14 143.14M617.50 357.80l143.14 -143.14M617.50 214.66l143.14 143.14M624.00 357.80l143.14 -143.14M624.00 214.66l143.14 143.14M630.50 357.80l143.14 -143.14M630.50 214.66l143.14 143.14M637.00 357.80l143.14 -143.14M637.00 214.66l143.14 143.14M643.50 357.80l143.14 -143.14M643.50 214.66l143.14 143.14M650.00 357.80l143.14 -143.14M650.00 214.66l143.14 143.14M656.50 357.80l143.14 -143.14M656.50 214.66l143.14 143.14M663.00 357.80l143.14 -143.14M663.00 214.66l143.14 143.14M669.50 357.80l143.14 -143.14M669.50 214.66l143.14 143.14M676.00 357.80l143.14 -143.14M676.00 214.66l143.14 143.14M682.50 357.80l143.14 -143.14M682.50 214.66l143.14 143.14" stroke="#808000" stroke-width="1.1" fill="none"/><rect x="517.27" y="216.16" width="22.50" height="140.64" fill="none" stroke="#808000" stroke-width="1.0"/></g>
<g stroke="#000" stroke-width="1.5"><line x1="76.2" y1="356.80" x2="83.8" y2="356.80" /><line x1="79.8" y1="322.46" x2="83.8" y2="322.46" /><line x1="76.2" y1="288.12" x2="83.8" y2="288.12" /><line x1="79.8" y1="253.78" x2="83.8" y2="253.78" /><line x1="76.2" y1="219.44" x2="83.8" y2="219.44" /><line x1="79.8" y1="185.10" x2="83.8" y2="185.10" /><line x1="76.2" y1="150.76" x2="83.8" y2="150.76" /><line x1="79.8" y1="116.42" x2="83.8" y2="116.42" /><line x1="76.2" y1="82.08" x2="83.8" y2="82.08" /><line x1="79.8" y1="47.74" x2="83.8" y2="47.74" /><line x1="76.2" y1="13.40" x2="83.8" y2="13.40" /></g>
<g><text x="72.5" y="363.80" class="yt" text-anchor="end">0</text><text x="72.5" y="295.12" class="yt" text-anchor="end">20</text><text x="72.5" y="226.44" class="yt" text-anchor="end">40</text><text x="72.5" y="157.76" class="yt" text-anchor="end">60</text><text x="72.5" y="89.08" class="yt" text-anchor="end">80</text><text x="72.5" y="20.40" class="yt" text-anchor="end">100</text></g>
<rect x="83.8" y="13.4" width="460.50" height="343.40" fill="none" stroke="#000" stroke-width="1.6"/>
<line x1="76.2" y1="356.8" x2="83.8" y2="356.8" stroke="#000" stroke-width="2"/>
<line x1="83.8" y1="356.8" x2="544.3" y2="356.8" stroke="#000" stroke-width="2"/>
<text x="105.8" y="380" class="xt" text-anchor="middle">Cd</text><text x="169.4" y="380" class="xt" text-anchor="middle">Ni</text><text x="229.5" y="380" class="xt" text-anchor="middle">Co</text><text x="285.9" y="380" class="xt" text-anchor="middle">Cu</text><text x="340.8" y="380" class="xt" text-anchor="middle">Ba</text><text x="404.0" y="380" class="xt" text-anchor="middle">Mn</text><text x="458.9" y="380" class="xt" text-anchor="middle">Zn</text><text x="521.0" y="380" class="xt" text-anchor="middle">Pb</text>
<text x="115.3" y="410.3" class="tx">In the presence of interfering cations</text>
<text transform="translate(25.8,352.1) rotate(-90)" class="tt" style="font-size:27.8px">Loss of Hg(II) adsorption (%)</text>
<clipPath id="c17"><rect x="439.80" y="44.20" width="36.80" height="17.40"/></clipPath><rect x="439.80" y="44.20" width="36.80" height="17.40" fill="#ff00ff"/><path clip-path="url(#c17)" d="M418.20 62.60l19.40 -19.40M421.60 62.60l19.40 -19.40M425.00 62.60l19.40 -19.40M428.40 62.60l19.40 -19.40M431.80 62.60l19.40 -19.40M435.20 62.60l19.40 -19.40M438.60 62.60l19.40 -19.40M442.00 62.60l19.40 -19.40M445.40 62.60l19.40 -19.40M448.80 62.60l19.40 -19.40M452.20 62.60l19.40 -19.40M455.60 62.60l19.40 -19.40M459.00 62.60l19.40 -19.40M462.40 62.60l19.40 -19.40M465.80 62.60l19.40 -19.40M469.20 62.60l19.40 -19.40M472.60 62.60l19.40 -19.40M476.00 62.60l19.40 -19.40" stroke="#1a001a" stroke-width="1.0" fill="none"/><rect x="440.40" y="44.80" width="35.60" height="16.80" fill="none" stroke="#000" stroke-width="1.2"/><clipPath id="c18"><rect x="439.80" y="72.40" width="36.80" height="17.80"/></clipPath><rect x="439.80" y="72.40" width="36.80" height="17.80" fill="#ff00ff"/><path clip-path="url(#c18)" d="M416.00 91.20l19.80 -19.80M416.00 71.40l19.80 19.80M422.50 91.20l19.80 -19.80M422.50 71.40l19.80 19.80M429.00 91.20l19.80 -19.80M429.00 71.40l19.80 19.80M435.50 91.20l19.80 -19.80M435.50 71.40l19.80 19.80M442.00 91.20l19.80 -19.80M442.00 71.40l19.80 19.80M448.50 91.20l19.80 -19.80M448.50 71.40l19.80 19.80M455.00 91.20l19.80 -19.80M455.00 71.40l19.80 19.80M461.50 91.20l19.80 -19.80M461.50 71.40l19.80 19.80M468.00 91.20l19.80 -19.80M468.00 71.40l19.80 19.80M474.50 91.20l19.80 -19.80M474.50 71.40l19.80 19.80M481.00 91.20l19.80 -19.80M481.00 71.40l19.80 19.80M487.50 91.20l19.80 -19.80M487.50 71.40l19.80 19.80M494.00 91.20l19.80 -19.80M494.00 71.40l19.80 19.80" stroke="#1a001a" stroke-width="1.1" fill="none"/><rect x="440.40" y="73.00" width="35.60" height="17.20" fill="none" stroke="#000" stroke-width="1.2"/>
<text x="482.3" y="58.3" class="lg">pH=4</text>
<text x="482.3" y="86.7" class="lg">pH=5</text>
<text x="387.4" y="135.9" class="an">Hg<tspan font-size="11" dy="-5.5">2+</tspan></text>
<text x="426" y="135.9" class="an">adsorption</text>
<text x="393.5" y="203.3" class="an">HgOH<tspan font-size="11" dy="-5.5">+</tspan></text>
<text x="453.2" y="203.3" class="an">adsorption</text>
</svg>
</body></html>
